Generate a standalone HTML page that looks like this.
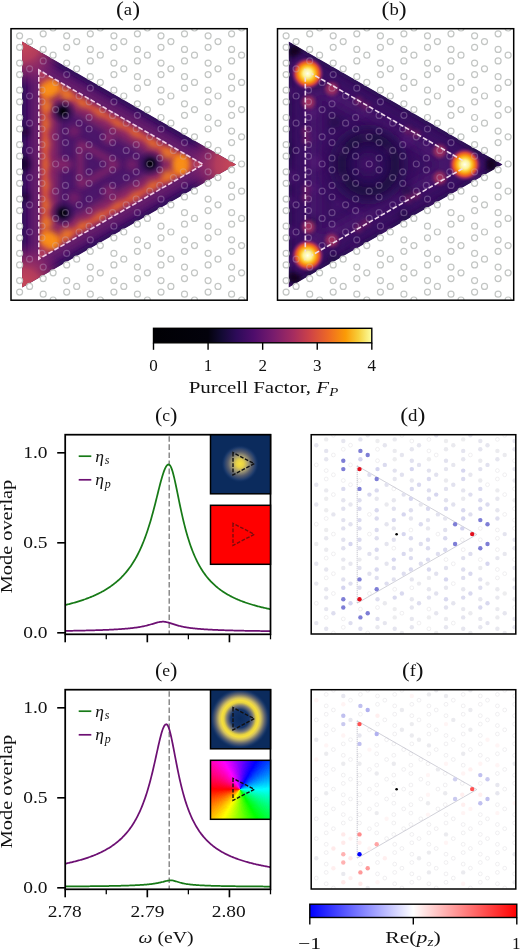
<!DOCTYPE html>
<html><head><meta charset="utf-8"><title>figure</title>
<style>html,body{margin:0;padding:0;background:#fff}svg{display:block}text{font-family:"Liberation Serif", "DejaVu Serif", serif;fill:#111}</style></head><body>
<svg width="520" height="951" viewBox="0 0 520 951">
<rect width="520" height="951" fill="#fff"/>
<defs>
<linearGradient id="inferno" x1="0" x2="1" y1="0" y2="0">
<stop offset="0" stop-color="#000004"/>
<stop offset="0.25" stop-color="#03020c"/>
<stop offset="0.31" stop-color="#120a32"/>
<stop offset="0.38" stop-color="#2d0b59"/>
<stop offset="0.46" stop-color="#4f0d6c"/>
<stop offset="0.55" stop-color="#781c6d"/>
<stop offset="0.64" stop-color="#a52c60"/>
<stop offset="0.72" stop-color="#cf4446"/>
<stop offset="0.8" stop-color="#ed6925"/>
<stop offset="0.88" stop-color="#fb9b06"/>
<stop offset="0.94" stop-color="#f7d03c"/>
<stop offset="1" stop-color="#fcffa4"/>
</linearGradient>
<linearGradient id="bwr" x1="0" x2="1" y1="0" y2="0"><stop offset="0" stop-color="#0000ff"/><stop offset="0.5" stop-color="#ffffff"/><stop offset="1" stop-color="#ff0000"/></linearGradient>
<filter id="b1" x="-60%" y="-60%" width="220%" height="220%"><feGaussianBlur stdDeviation="1.2"/></filter>
<filter id="b2" x="-60%" y="-60%" width="220%" height="220%"><feGaussianBlur stdDeviation="2"/></filter>
<filter id="b3" x="-60%" y="-60%" width="220%" height="220%"><feGaussianBlur stdDeviation="3"/></filter>
<filter id="b4" x="-60%" y="-60%" width="220%" height="220%"><feGaussianBlur stdDeviation="4.5"/></filter>
<filter id="b6" x="-60%" y="-60%" width="220%" height="220%"><feGaussianBlur stdDeviation="6"/></filter>
<filter id="b9" x="-60%" y="-60%" width="220%" height="220%"><feGaussianBlur stdDeviation="9"/></filter>
<radialGradient id="hot"><stop offset="0" stop-color="#ffffee"/><stop offset="0.24" stop-color="#fef69c"/><stop offset="0.4" stop-color="#fcc830"/><stop offset="0.55" stop-color="#f98b10"/><stop offset="0.69" stop-color="#da4c3b"/><stop offset="0.82" stop-color="#8a2468" stop-opacity="0.8"/><stop offset="1" stop-color="#3a0f5c" stop-opacity="0"/></radialGradient>
<radialGradient id="hotcore"><stop offset="0" stop-color="#ffffee"/><stop offset="0.6" stop-color="#fef8a6" stop-opacity="0.9"/><stop offset="1" stop-color="#fde870" stop-opacity="0"/></radialGradient>
<radialGradient id="dark"><stop offset="0" stop-color="#000004"/><stop offset="0.25" stop-color="#07041a" stop-opacity="0.9"/><stop offset="0.6" stop-color="#1d0940" stop-opacity="0.45"/><stop offset="1" stop-color="#2a0b50" stop-opacity="0"/></radialGradient>
<radialGradient id="cornerpink"><stop offset="0" stop-color="#cc4a58"/><stop offset="0.4" stop-color="#b83e5c" stop-opacity="0.95"/><stop offset="0.7" stop-color="#972b68" stop-opacity="0.6"/><stop offset="1" stop-color="#7a1d6d" stop-opacity="0"/></radialGradient>
<radialGradient id="civ_s"><stop offset="0" stop-color="#f8e23c"/><stop offset="0.2" stop-color="#e6d148"/><stop offset="0.42" stop-color="#a69d75"/><stop offset="0.64" stop-color="#575d6d"/><stop offset="0.85" stop-color="#1c3a6c"/><stop offset="1" stop-color="#0b2b5d" stop-opacity="0"/></radialGradient>
<radialGradient id="civ_p"><stop offset="0" stop-color="#0b2b5d"/><stop offset="0.3" stop-color="#16356a"/><stop offset="0.43" stop-color="#7c7b78"/><stop offset="0.53" stop-color="#e6d243"/><stop offset="0.6" stop-color="#f6e03c"/><stop offset="0.68" stop-color="#d2c060"/><stop offset="0.8" stop-color="#6a6c70"/><stop offset="0.92" stop-color="#1c3a6c" stop-opacity="0.8"/><stop offset="1" stop-color="#0b2b5d" stop-opacity="0"/></radialGradient>
<clipPath id="clipA"><polygon points="22.10,41.50 22.10,287.50 236.00,164.50"/></clipPath>
<clipPath id="clipIn"><polygon points="38.80,70.00 38.80,259.00 203.20,164.50"/></clipPath>
<clipPath id="frameA"><rect x="11" y="28.7" width="236.2" height="271.5"/></clipPath>
</defs>
<g id="panelA">
<g clip-path="url(#clipA)">
<polygon points="22.10,41.50 22.10,287.50 236.00,164.50" fill="#471168"/>
<polygon points="22.10,41.50 22.10,287.50 236.00,164.50" fill="none" stroke="#2f0e58" stroke-width="8" filter="url(#b3)"/>
<polygon points="38.80,70.00 38.80,259.00 203.20,164.50" fill="none" stroke="#651a6b" stroke-width="16" stroke-linejoin="round" filter="url(#b3)"/>
<circle cx="22.1" cy="41.5" r="46" fill="url(#cornerpink)"/>
<circle cx="22.1" cy="287.5" r="46" fill="url(#cornerpink)"/>
<circle cx="236.0" cy="164.5" r="50" fill="url(#cornerpink)"/>
<polygon points="52.77,94.14 52.77,234.86 175.17,164.50" fill="#4b126a" filter="url(#b4)"/>
<g clip-path="url(#clipIn)">
<polygon points="46.79,83.80 46.79,245.20 187.19,164.50" fill="none" stroke="#932965" stroke-width="21" stroke-linejoin="round" filter="url(#b4)"/>
<polygon points="45.29,81.21 45.29,247.79 190.19,164.50" fill="none" stroke="#d2513e" stroke-width="6.5" stroke-linejoin="round" filter="url(#b2)"/>
<circle cx="47.5" cy="90.0" r="8" fill="#f98f18" opacity="1" filter="url(#b3)"/>
<circle cx="181.0" cy="161.9" r="8" fill="#f98f18" opacity="1" filter="url(#b3)"/>
<circle cx="52.0" cy="241.6" r="8" fill="#f98f18" opacity="1" filter="url(#b3)"/>
<circle cx="47.5" cy="239.0" r="8" fill="#f98f18" opacity="1" filter="url(#b3)"/>
<circle cx="52.0" cy="87.4" r="8" fill="#f98f18" opacity="1" filter="url(#b3)"/>
<circle cx="181.0" cy="167.1" r="8" fill="#f98f18" opacity="1" filter="url(#b3)"/>
<circle cx="47.0" cy="106.0" r="6" fill="#f98f18" opacity="0.65" filter="url(#b3)"/>
<circle cx="167.4" cy="153.5" r="6" fill="#f98f18" opacity="0.65" filter="url(#b3)"/>
<circle cx="66.1" cy="234.0" r="6" fill="#f98f18" opacity="0.65" filter="url(#b3)"/>
<circle cx="47.0" cy="223.0" r="6" fill="#f98f18" opacity="0.65" filter="url(#b3)"/>
<circle cx="66.1" cy="95.0" r="6" fill="#f98f18" opacity="0.65" filter="url(#b3)"/>
<circle cx="167.4" cy="175.5" r="6" fill="#f98f18" opacity="0.65" filter="url(#b3)"/>
<circle cx="46.5" cy="124.0" r="5" fill="#f98f18" opacity="0.42" filter="url(#b3)"/>
<circle cx="152.1" cy="144.0" r="5" fill="#f98f18" opacity="0.42" filter="url(#b3)"/>
<circle cx="81.9" cy="225.5" r="5" fill="#f98f18" opacity="0.42" filter="url(#b3)"/>
<circle cx="46.5" cy="205.0" r="5" fill="#f98f18" opacity="0.42" filter="url(#b3)"/>
<circle cx="81.9" cy="103.5" r="5" fill="#f98f18" opacity="0.42" filter="url(#b3)"/>
<circle cx="152.1" cy="185.0" r="5" fill="#f98f18" opacity="0.42" filter="url(#b3)"/>
<circle cx="46.5" cy="144.0" r="4.5" fill="#f98f18" opacity="0.3" filter="url(#b3)"/>
<circle cx="134.8" cy="134.0" r="4.5" fill="#f98f18" opacity="0.3" filter="url(#b3)"/>
<circle cx="99.2" cy="215.5" r="4.5" fill="#f98f18" opacity="0.3" filter="url(#b3)"/>
<circle cx="46.5" cy="185.0" r="4.5" fill="#f98f18" opacity="0.3" filter="url(#b3)"/>
<circle cx="99.2" cy="113.5" r="4.5" fill="#f98f18" opacity="0.3" filter="url(#b3)"/>
<circle cx="134.8" cy="195.0" r="4.5" fill="#f98f18" opacity="0.3" filter="url(#b3)"/>
<circle cx="46.5" cy="164.5" r="4.5" fill="#f98f18" opacity="0.3" filter="url(#b3)"/>
<circle cx="117.0" cy="123.8" r="4.5" fill="#f98f18" opacity="0.3" filter="url(#b3)"/>
<circle cx="117.0" cy="205.2" r="4.5" fill="#f98f18" opacity="0.3" filter="url(#b3)"/>
<circle cx="41.3" cy="74.3" r="8" fill="#b23d5d" opacity="0.95" filter="url(#b3)"/>
<circle cx="41.3" cy="254.7" r="8" fill="#b23d5d" opacity="0.95" filter="url(#b3)"/>
<circle cx="198.2" cy="164.5" r="8" fill="#b23d5d" opacity="0.95" filter="url(#b3)"/>
</g>
<polygon points="80.00,143.00 80.00,186.00 117.00,164.50" fill="none" stroke="#8f2769" stroke-width="6" stroke-linejoin="round" opacity="0.85" filter="url(#b3)"/>
<ellipse cx="63.0" cy="164.5" rx="10" ry="6" fill="#8f2769" opacity="0.8" filter="url(#b3)"/>
<circle cx="108.8" cy="138.1" r="6" fill="#8f2769" opacity="0.8" filter="url(#b3)"/>
<circle cx="108.8" cy="190.9" r="6" fill="#8f2769" opacity="0.8" filter="url(#b3)"/>
<circle cx="132.0" cy="164.5" r="6" fill="#862368" opacity="0.7" filter="url(#b3)"/>
<circle cx="74.2" cy="197.8" r="6" fill="#862368" opacity="0.7" filter="url(#b3)"/>
<circle cx="74.2" cy="131.2" r="6" fill="#862368" opacity="0.7" filter="url(#b3)"/>
<circle cx="63.0" cy="111.5" r="13.5" fill="url(#dark)"/>
<circle cx="63.0" cy="213.0" r="13.5" fill="url(#dark)"/>
<circle cx="150.5" cy="163.5" r="13.5" fill="url(#dark)"/>
<circle cx="23.0" cy="164.0" r="7" fill="#0d0524" opacity="0.8" filter="url(#b3)"/>
<circle cx="25.0" cy="132.0" r="4" fill="#0d0524" opacity="0.8" filter="url(#b3)"/>
<circle cx="25.0" cy="197.0" r="4" fill="#0d0524" opacity="0.8" filter="url(#b3)"/>
</g>
<g clip-path="url(#frameA)" transform="translate(0,0)" fill="none" stroke-width="1"><g stroke="#c3c6c4" stroke-width="1.2"><circle cx="6.0" cy="28.0" r="3"/><circle cx="6.0" cy="55.2" r="3"/><circle cx="6.0" cy="82.4" r="3"/><circle cx="6.0" cy="109.6" r="3"/><circle cx="6.0" cy="136.8" r="3"/><circle cx="6.0" cy="164.0" r="3"/><circle cx="6.0" cy="191.2" r="3"/><circle cx="6.0" cy="218.4" r="3"/><circle cx="6.0" cy="245.6" r="3"/><circle cx="6.0" cy="272.8" r="3"/><circle cx="6.0" cy="300.0" r="3"/><circle cx="29.6" cy="41.6" r="3"/><circle cx="19.6" cy="47.3" r="3"/><circle cx="19.6" cy="35.8" r="3"/><circle cx="19.6" cy="74.6" r="3"/><circle cx="19.6" cy="63.1" r="3"/><circle cx="19.6" cy="101.8" r="3"/><circle cx="19.6" cy="90.2" r="3"/><circle cx="19.6" cy="129.0" r="3"/><circle cx="19.6" cy="117.5" r="3"/><circle cx="19.6" cy="156.2" r="3"/><circle cx="19.6" cy="144.7" r="3"/><circle cx="19.6" cy="183.3" r="3"/><circle cx="19.6" cy="171.8" r="3"/><circle cx="19.6" cy="210.6" r="3"/><circle cx="19.6" cy="199.1" r="3"/><circle cx="19.6" cy="237.8" r="3"/><circle cx="19.6" cy="226.2" r="3"/><circle cx="19.6" cy="264.9" r="3"/><circle cx="19.6" cy="253.4" r="3"/><circle cx="29.6" cy="286.4" r="3"/><circle cx="19.6" cy="292.1" r="3"/><circle cx="19.6" cy="280.6" r="3"/><circle cx="53.1" cy="28.0" r="3"/><circle cx="43.2" cy="33.8" r="3"/><circle cx="43.2" cy="22.3" r="3"/><circle cx="53.1" cy="55.2" r="3"/><circle cx="43.2" cy="49.4" r="3"/><circle cx="53.1" cy="272.8" r="3"/><circle cx="43.2" cy="278.6" r="3"/><circle cx="53.1" cy="300.0" r="3"/><circle cx="43.2" cy="305.8" r="3"/><circle cx="43.2" cy="294.2" r="3"/><circle cx="76.7" cy="41.6" r="3"/><circle cx="66.7" cy="47.3" r="3"/><circle cx="66.7" cy="35.8" r="3"/><circle cx="76.7" cy="68.8" r="3"/><circle cx="66.7" cy="63.1" r="3"/><circle cx="76.7" cy="259.2" r="3"/><circle cx="66.7" cy="264.9" r="3"/><circle cx="76.7" cy="286.4" r="3"/><circle cx="66.7" cy="292.1" r="3"/><circle cx="66.7" cy="280.6" r="3"/><circle cx="100.3" cy="28.0" r="3"/><circle cx="90.3" cy="33.8" r="3"/><circle cx="90.3" cy="22.3" r="3"/><circle cx="100.3" cy="55.2" r="3"/><circle cx="90.3" cy="60.9" r="3"/><circle cx="90.3" cy="49.4" r="3"/><circle cx="100.3" cy="82.4" r="3"/><circle cx="90.3" cy="76.7" r="3"/><circle cx="100.3" cy="245.6" r="3"/><circle cx="90.3" cy="251.3" r="3"/><circle cx="100.3" cy="272.8" r="3"/><circle cx="90.3" cy="278.6" r="3"/><circle cx="90.3" cy="267.1" r="3"/><circle cx="100.3" cy="300.0" r="3"/><circle cx="90.3" cy="305.8" r="3"/><circle cx="90.3" cy="294.2" r="3"/><circle cx="123.8" cy="41.6" r="3"/><circle cx="113.9" cy="47.3" r="3"/><circle cx="113.9" cy="35.8" r="3"/><circle cx="123.8" cy="68.8" r="3"/><circle cx="113.9" cy="74.6" r="3"/><circle cx="113.9" cy="63.1" r="3"/><circle cx="123.8" cy="96.0" r="3"/><circle cx="113.9" cy="90.2" r="3"/><circle cx="123.8" cy="232.0" r="3"/><circle cx="113.9" cy="237.8" r="3"/><circle cx="123.8" cy="259.2" r="3"/><circle cx="113.9" cy="264.9" r="3"/><circle cx="113.9" cy="253.4" r="3"/><circle cx="123.8" cy="286.4" r="3"/><circle cx="113.9" cy="292.1" r="3"/><circle cx="113.9" cy="280.6" r="3"/><circle cx="147.4" cy="28.0" r="3"/><circle cx="137.4" cy="33.8" r="3"/><circle cx="137.4" cy="22.3" r="3"/><circle cx="147.4" cy="55.2" r="3"/><circle cx="137.4" cy="60.9" r="3"/><circle cx="137.4" cy="49.4" r="3"/><circle cx="147.4" cy="82.4" r="3"/><circle cx="137.4" cy="88.2" r="3"/><circle cx="137.4" cy="76.7" r="3"/><circle cx="147.4" cy="109.6" r="3"/><circle cx="137.4" cy="103.8" r="3"/><circle cx="147.4" cy="218.4" r="3"/><circle cx="137.4" cy="224.2" r="3"/><circle cx="147.4" cy="245.6" r="3"/><circle cx="137.4" cy="251.3" r="3"/><circle cx="137.4" cy="239.8" r="3"/><circle cx="147.4" cy="272.8" r="3"/><circle cx="137.4" cy="278.6" r="3"/><circle cx="137.4" cy="267.1" r="3"/><circle cx="147.4" cy="300.0" r="3"/><circle cx="137.4" cy="305.8" r="3"/><circle cx="137.4" cy="294.2" r="3"/><circle cx="170.9" cy="41.6" r="3"/><circle cx="161.0" cy="47.3" r="3"/><circle cx="161.0" cy="35.8" r="3"/><circle cx="170.9" cy="68.8" r="3"/><circle cx="161.0" cy="74.6" r="3"/><circle cx="161.0" cy="63.1" r="3"/><circle cx="170.9" cy="96.0" r="3"/><circle cx="161.0" cy="101.8" r="3"/><circle cx="161.0" cy="90.2" r="3"/><circle cx="170.9" cy="123.2" r="3"/><circle cx="161.0" cy="117.5" r="3"/><circle cx="170.9" cy="204.8" r="3"/><circle cx="161.0" cy="210.6" r="3"/><circle cx="170.9" cy="232.0" r="3"/><circle cx="161.0" cy="237.8" r="3"/><circle cx="161.0" cy="226.2" r="3"/><circle cx="170.9" cy="259.2" r="3"/><circle cx="161.0" cy="264.9" r="3"/><circle cx="161.0" cy="253.4" r="3"/><circle cx="170.9" cy="286.4" r="3"/><circle cx="161.0" cy="292.1" r="3"/><circle cx="161.0" cy="280.6" r="3"/><circle cx="194.5" cy="28.0" r="3"/><circle cx="184.5" cy="33.8" r="3"/><circle cx="184.5" cy="22.3" r="3"/><circle cx="194.5" cy="55.2" r="3"/><circle cx="184.5" cy="60.9" r="3"/><circle cx="184.5" cy="49.4" r="3"/><circle cx="194.5" cy="82.4" r="3"/><circle cx="184.5" cy="88.2" r="3"/><circle cx="184.5" cy="76.7" r="3"/><circle cx="194.5" cy="109.6" r="3"/><circle cx="184.5" cy="115.3" r="3"/><circle cx="184.5" cy="103.8" r="3"/><circle cx="194.5" cy="136.8" r="3"/><circle cx="184.5" cy="131.1" r="3"/><circle cx="194.5" cy="191.2" r="3"/><circle cx="184.5" cy="196.9" r="3"/><circle cx="194.5" cy="218.4" r="3"/><circle cx="184.5" cy="224.2" r="3"/><circle cx="184.5" cy="212.7" r="3"/><circle cx="194.5" cy="245.6" r="3"/><circle cx="184.5" cy="251.3" r="3"/><circle cx="184.5" cy="239.8" r="3"/><circle cx="194.5" cy="272.8" r="3"/><circle cx="184.5" cy="278.6" r="3"/><circle cx="184.5" cy="267.1" r="3"/><circle cx="194.5" cy="300.0" r="3"/><circle cx="184.5" cy="305.8" r="3"/><circle cx="184.5" cy="294.2" r="3"/><circle cx="218.0" cy="41.6" r="3"/><circle cx="208.1" cy="47.3" r="3"/><circle cx="208.1" cy="35.8" r="3"/><circle cx="218.0" cy="68.8" r="3"/><circle cx="208.1" cy="74.6" r="3"/><circle cx="208.1" cy="63.1" r="3"/><circle cx="218.0" cy="96.0" r="3"/><circle cx="208.1" cy="101.8" r="3"/><circle cx="208.1" cy="90.2" r="3"/><circle cx="218.0" cy="123.2" r="3"/><circle cx="208.1" cy="129.0" r="3"/><circle cx="208.1" cy="117.5" r="3"/><circle cx="218.0" cy="150.4" r="3"/><circle cx="208.1" cy="144.7" r="3"/><circle cx="218.0" cy="177.6" r="3"/><circle cx="208.1" cy="183.3" r="3"/><circle cx="218.0" cy="204.8" r="3"/><circle cx="208.1" cy="210.6" r="3"/><circle cx="208.1" cy="199.1" r="3"/><circle cx="218.0" cy="232.0" r="3"/><circle cx="208.1" cy="237.8" r="3"/><circle cx="208.1" cy="226.2" r="3"/><circle cx="218.0" cy="259.2" r="3"/><circle cx="208.1" cy="264.9" r="3"/><circle cx="208.1" cy="253.4" r="3"/><circle cx="218.0" cy="286.4" r="3"/><circle cx="208.1" cy="292.1" r="3"/><circle cx="208.1" cy="280.6" r="3"/><circle cx="241.6" cy="28.0" r="3"/><circle cx="231.6" cy="33.8" r="3"/><circle cx="231.6" cy="22.3" r="3"/><circle cx="241.6" cy="55.2" r="3"/><circle cx="231.6" cy="60.9" r="3"/><circle cx="231.6" cy="49.4" r="3"/><circle cx="241.6" cy="82.4" r="3"/><circle cx="231.6" cy="88.2" r="3"/><circle cx="231.6" cy="76.7" r="3"/><circle cx="241.6" cy="109.6" r="3"/><circle cx="231.6" cy="115.3" r="3"/><circle cx="231.6" cy="103.8" r="3"/><circle cx="241.6" cy="136.8" r="3"/><circle cx="231.6" cy="142.6" r="3"/><circle cx="231.6" cy="131.1" r="3"/><circle cx="241.6" cy="164.0" r="3"/><circle cx="231.6" cy="169.8" r="3"/><circle cx="231.6" cy="158.2" r="3"/><circle cx="241.6" cy="191.2" r="3"/><circle cx="231.6" cy="196.9" r="3"/><circle cx="231.6" cy="185.4" r="3"/><circle cx="241.6" cy="218.4" r="3"/><circle cx="231.6" cy="224.2" r="3"/><circle cx="231.6" cy="212.7" r="3"/><circle cx="241.6" cy="245.6" r="3"/><circle cx="231.6" cy="251.3" r="3"/><circle cx="231.6" cy="239.8" r="3"/><circle cx="241.6" cy="272.8" r="3"/><circle cx="231.6" cy="278.6" r="3"/><circle cx="231.6" cy="267.1" r="3"/><circle cx="241.6" cy="300.0" r="3"/><circle cx="231.6" cy="305.8" r="3"/><circle cx="231.6" cy="294.2" r="3"/></g><g stroke="#c9b5d6" stroke-opacity="0.33" stroke-width="1.2"><circle cx="29.6" cy="68.8" r="3"/><circle cx="29.6" cy="96.0" r="3"/><circle cx="29.6" cy="123.2" r="3"/><circle cx="29.6" cy="150.4" r="3"/><circle cx="29.6" cy="177.6" r="3"/><circle cx="29.6" cy="204.8" r="3"/><circle cx="29.6" cy="232.0" r="3"/><circle cx="29.6" cy="259.2" r="3"/><circle cx="43.2" cy="60.9" r="3"/><circle cx="55.6" cy="82.4" r="3"/><circle cx="42.0" cy="90.2" r="3"/><circle cx="42.0" cy="74.6" r="3"/><circle cx="55.6" cy="109.6" r="3"/><circle cx="42.0" cy="117.4" r="3"/><circle cx="42.0" cy="101.8" r="3"/><circle cx="55.6" cy="136.8" r="3"/><circle cx="42.0" cy="144.7" r="3"/><circle cx="42.0" cy="129.0" r="3"/><circle cx="55.6" cy="164.0" r="3"/><circle cx="42.0" cy="171.8" r="3"/><circle cx="42.0" cy="156.2" r="3"/><circle cx="55.6" cy="191.2" r="3"/><circle cx="42.0" cy="199.0" r="3"/><circle cx="42.0" cy="183.3" r="3"/><circle cx="55.6" cy="218.4" r="3"/><circle cx="42.0" cy="226.2" r="3"/><circle cx="42.0" cy="210.6" r="3"/><circle cx="55.6" cy="245.6" r="3"/><circle cx="42.0" cy="253.4" r="3"/><circle cx="42.0" cy="237.8" r="3"/><circle cx="43.2" cy="267.1" r="3"/><circle cx="66.7" cy="74.6" r="3"/><circle cx="79.1" cy="96.0" r="3"/><circle cx="65.5" cy="103.8" r="3"/><circle cx="65.5" cy="88.2" r="3"/><circle cx="79.1" cy="123.2" r="3"/><circle cx="65.5" cy="131.1" r="3"/><circle cx="65.5" cy="115.4" r="3"/><circle cx="79.1" cy="150.4" r="3"/><circle cx="65.5" cy="158.2" r="3"/><circle cx="65.5" cy="142.6" r="3"/><circle cx="79.1" cy="177.6" r="3"/><circle cx="65.5" cy="185.4" r="3"/><circle cx="65.5" cy="169.8" r="3"/><circle cx="79.1" cy="204.8" r="3"/><circle cx="65.5" cy="212.7" r="3"/><circle cx="65.5" cy="197.0" r="3"/><circle cx="79.1" cy="232.0" r="3"/><circle cx="65.5" cy="239.8" r="3"/><circle cx="65.5" cy="224.2" r="3"/><circle cx="66.7" cy="253.4" r="3"/><circle cx="90.3" cy="88.2" r="3"/><circle cx="102.7" cy="109.6" r="3"/><circle cx="89.1" cy="117.4" r="3"/><circle cx="89.1" cy="101.8" r="3"/><circle cx="102.7" cy="136.8" r="3"/><circle cx="89.1" cy="144.7" r="3"/><circle cx="89.1" cy="129.0" r="3"/><circle cx="102.7" cy="164.0" r="3"/><circle cx="89.1" cy="171.8" r="3"/><circle cx="89.1" cy="156.2" r="3"/><circle cx="102.7" cy="191.2" r="3"/><circle cx="89.1" cy="199.0" r="3"/><circle cx="89.1" cy="183.3" r="3"/><circle cx="102.7" cy="218.4" r="3"/><circle cx="89.1" cy="226.2" r="3"/><circle cx="89.1" cy="210.6" r="3"/><circle cx="90.3" cy="239.8" r="3"/><circle cx="113.9" cy="101.8" r="3"/><circle cx="126.2" cy="123.2" r="3"/><circle cx="112.6" cy="131.1" r="3"/><circle cx="112.6" cy="115.4" r="3"/><circle cx="126.2" cy="150.4" r="3"/><circle cx="112.6" cy="158.2" r="3"/><circle cx="112.6" cy="142.6" r="3"/><circle cx="126.2" cy="177.6" r="3"/><circle cx="112.6" cy="185.4" r="3"/><circle cx="112.6" cy="169.8" r="3"/><circle cx="126.2" cy="204.8" r="3"/><circle cx="112.6" cy="212.7" r="3"/><circle cx="112.6" cy="197.0" r="3"/><circle cx="113.9" cy="226.2" r="3"/><circle cx="137.4" cy="115.3" r="3"/><circle cx="149.8" cy="136.8" r="3"/><circle cx="136.2" cy="144.7" r="3"/><circle cx="136.2" cy="129.0" r="3"/><circle cx="149.8" cy="164.0" r="3"/><circle cx="136.2" cy="171.8" r="3"/><circle cx="136.2" cy="156.2" r="3"/><circle cx="149.8" cy="191.2" r="3"/><circle cx="136.2" cy="199.0" r="3"/><circle cx="136.2" cy="183.3" r="3"/><circle cx="137.4" cy="212.7" r="3"/><circle cx="161.0" cy="129.0" r="3"/><circle cx="173.4" cy="150.4" r="3"/><circle cx="159.8" cy="158.2" r="3"/><circle cx="159.8" cy="142.6" r="3"/><circle cx="173.4" cy="177.6" r="3"/><circle cx="159.8" cy="185.4" r="3"/><circle cx="159.8" cy="169.8" r="3"/><circle cx="161.0" cy="199.1" r="3"/><circle cx="184.5" cy="142.6" r="3"/><circle cx="196.9" cy="164.0" r="3"/><circle cx="183.3" cy="171.8" r="3"/><circle cx="183.3" cy="156.2" r="3"/><circle cx="184.5" cy="185.4" r="3"/><circle cx="208.1" cy="156.2" r="3"/><circle cx="208.1" cy="171.8" r="3"/></g></g>
<polygon points="38.80,70.00 38.80,259.00 203.20,164.50" fill="none" stroke="#f3cfe6" stroke-width="1.6" stroke-dasharray="4.8,2.1"/>
<rect x="11" y="28.7" width="236.2" height="271.5" fill="none" stroke="#000" stroke-width="1.5"/>
</g>
<g id="panelB">
<g clip-path="url(#clipA)" transform="translate(266.5,0)">
<polygon points="22.10,41.50 22.10,287.50 236.00,164.50" fill="#3a1062"/>
<polygon points="22.10,41.50 22.10,287.50 236.00,164.50" fill="none" stroke="#2a0b52" stroke-width="7" filter="url(#b3)"/>
<polygon points="46.79,83.80 46.79,245.20 187.19,164.50" fill="none" stroke="#47136c" stroke-width="12" stroke-linejoin="round" filter="url(#b4)"/>
<circle cx="102" cy="164.5" r="40" fill="#2c0b55" filter="url(#b9)"/>
<circle cx="102" cy="164.5" r="27" fill="none" stroke="#1d0840" stroke-width="9" filter="url(#b4)"/>
<circle cx="102" cy="164.5" r="12" fill="#3a1062" filter="url(#b4)"/>
<circle cx="26.5" cy="68.0" r="4.62072" fill="#5a1a78" opacity="0.55" filter="url(#b3)"/>
<circle cx="21.9" cy="92.5" r="5.76859" fill="#541878" opacity="0.55" filter="url(#b3)"/>
<circle cx="19.6" cy="122.5" r="5.10166" fill="#541878" opacity="0.55" filter="url(#b3)"/>
<circle cx="19.4" cy="150.9" r="6.86862" fill="#1d0840" opacity="0.55" filter="url(#b3)"/>
<circle cx="23.6" cy="176.8" r="6.94064" fill="#541878" opacity="0.55" filter="url(#b3)"/>
<circle cx="23.4" cy="201.9" r="5.54785" fill="#541878" opacity="0.55" filter="url(#b3)"/>
<circle cx="23.5" cy="232.5" r="6.20501" fill="#541878" opacity="0.55" filter="url(#b3)"/>
<circle cx="23.6" cy="260.3" r="5.43099" fill="#541878" opacity="0.55" filter="url(#b3)"/>
<circle cx="23.5" cy="287.4" r="5.74104" fill="#541878" opacity="0.55" filter="url(#b3)"/>
<circle cx="48.7" cy="82.1" r="6.8086" fill="#1d0840" opacity="0.55" filter="url(#b3)"/>
<circle cx="44.9" cy="112.0" r="6.24749" fill="#5a1a78" opacity="0.55" filter="url(#b3)"/>
<circle cx="43.2" cy="135.2" r="5.73779" fill="#4d1572" opacity="0.55" filter="url(#b3)"/>
<circle cx="48.3" cy="162.3" r="6.95044" fill="#5a1a78" opacity="0.55" filter="url(#b3)"/>
<circle cx="46.6" cy="188.5" r="5.35514" fill="#541878" opacity="0.55" filter="url(#b3)"/>
<circle cx="45.9" cy="222.1" r="4.69405" fill="#1d0840" opacity="0.55" filter="url(#b3)"/>
<circle cx="45.2" cy="244.4" r="5.74169" fill="#5a1a78" opacity="0.55" filter="url(#b3)"/>
<circle cx="43.1" cy="269.5" r="5.17485" fill="#1d0840" opacity="0.55" filter="url(#b3)"/>
<circle cx="66.6" cy="97.6" r="6.11782" fill="#541878" opacity="0.55" filter="url(#b3)"/>
<circle cx="68.3" cy="122.3" r="6.17163" fill="#1d0840" opacity="0.55" filter="url(#b3)"/>
<circle cx="75.1" cy="150.4" r="4.5" fill="#47136c" opacity="0.5" filter="url(#b3)"/>
<circle cx="75.1" cy="177.6" r="4.5" fill="#47136c" opacity="0.5" filter="url(#b3)"/>
<circle cx="71.0" cy="204.7" r="5.04552" fill="#4d1572" opacity="0.55" filter="url(#b3)"/>
<circle cx="67.1" cy="230.0" r="5.47737" fill="#5a1a78" opacity="0.55" filter="url(#b3)"/>
<circle cx="66.7" cy="258.8" r="5.8736" fill="#1d0840" opacity="0.55" filter="url(#b3)"/>
<circle cx="96.2" cy="112.5" r="5.19605" fill="#4d1572" opacity="0.55" filter="url(#b3)"/>
<circle cx="98.6" cy="136.8" r="4.5" fill="#47136c" opacity="0.5" filter="url(#b3)"/>
<circle cx="98.6" cy="164.0" r="4.5" fill="#47136c" opacity="0.5" filter="url(#b3)"/>
<circle cx="90.8" cy="215.8" r="5.07989" fill="#4d1572" opacity="0.55" filter="url(#b3)"/>
<circle cx="89.7" cy="248.2" r="4.95586" fill="#4d1572" opacity="0.55" filter="url(#b3)"/>
<circle cx="122.2" cy="123.2" r="4.5" fill="#47136c" opacity="0.5" filter="url(#b3)"/>
<circle cx="122.2" cy="150.4" r="4.5" fill="#47136c" opacity="0.5" filter="url(#b3)"/>
<circle cx="120.8" cy="233.5" r="5.78873" fill="#5a1a78" opacity="0.55" filter="url(#b3)"/>
<circle cx="140.4" cy="139.8" r="6.87972" fill="#541878" opacity="0.55" filter="url(#b3)"/>
<circle cx="139.9" cy="190.4" r="5.70381" fill="#1d0840" opacity="0.55" filter="url(#b3)"/>
<circle cx="137.2" cy="214.9" r="5.02191" fill="#1d0840" opacity="0.55" filter="url(#b3)"/>
<circle cx="161.2" cy="151.2" r="4.75595" fill="#4d1572" opacity="0.55" filter="url(#b3)"/>
<circle cx="164.6" cy="181.2" r="6.03434" fill="#4d1572" opacity="0.55" filter="url(#b3)"/>
<circle cx="167.3" cy="205.7" r="4.87138" fill="#541878" opacity="0.55" filter="url(#b3)"/>
<circle cx="191.5" cy="164.8" r="5.68538" fill="#5a1a78" opacity="0.55" filter="url(#b3)"/>
<circle cx="190.6" cy="195.1" r="5.66497" fill="#541878" opacity="0.55" filter="url(#b3)"/>
<circle cx="209.9" cy="147.6" r="6.37418" fill="#1d0840" opacity="0.55" filter="url(#b3)"/>
<circle cx="211.2" cy="179.1" r="5.79084" fill="#5a1a78" opacity="0.55" filter="url(#b3)"/>
<circle cx="238.6" cy="164.2" r="4.86651" fill="#4d1572" opacity="0.55" filter="url(#b3)"/>
<circle cx="65.5" cy="88.5" r="5.5" fill="#a8335f" opacity="0.8" filter="url(#b2)"/>
<circle cx="173.3" cy="178.3" r="5.5" fill="#a8335f" opacity="0.8" filter="url(#b2)"/>
<circle cx="41.7" cy="226.7" r="5.5" fill="#a8335f" opacity="0.8" filter="url(#b2)"/>
<circle cx="65.5" cy="240.5" r="5.5" fill="#a8335f" opacity="0.8" filter="url(#b2)"/>
<circle cx="41.7" cy="102.3" r="5.5" fill="#a8335f" opacity="0.8" filter="url(#b2)"/>
<circle cx="173.3" cy="150.7" r="5.5" fill="#a8335f" opacity="0.8" filter="url(#b2)"/>
<circle cx="42.5" cy="102.0" r="5.5" fill="#a8335f" opacity="0.75" filter="url(#b2)"/>
<circle cx="173.1" cy="151.6" r="5.5" fill="#a8335f" opacity="0.75" filter="url(#b2)"/>
<circle cx="64.9" cy="239.9" r="5.5" fill="#a8335f" opacity="0.75" filter="url(#b2)"/>
<circle cx="42.5" cy="227.0" r="5.5" fill="#a8335f" opacity="0.75" filter="url(#b2)"/>
<circle cx="64.9" cy="89.1" r="5.5" fill="#a8335f" opacity="0.75" filter="url(#b2)"/>
<circle cx="173.1" cy="177.4" r="5.5" fill="#a8335f" opacity="0.75" filter="url(#b2)"/>
<circle cx="92.0" cy="101.0" r="4" fill="#a8335f" opacity="0.45" filter="url(#b2)"/>
<circle cx="149.2" cy="195.0" r="4" fill="#a8335f" opacity="0.45" filter="url(#b2)"/>
<circle cx="39.3" cy="197.5" r="4" fill="#a8335f" opacity="0.45" filter="url(#b2)"/>
<circle cx="92.0" cy="228.0" r="4" fill="#a8335f" opacity="0.45" filter="url(#b2)"/>
<circle cx="39.3" cy="131.5" r="4" fill="#a8335f" opacity="0.45" filter="url(#b2)"/>
<circle cx="149.2" cy="134.0" r="4" fill="#a8335f" opacity="0.45" filter="url(#b2)"/>
<circle cx="40.0" cy="140.0" r="4" fill="#a8335f" opacity="0.4" filter="url(#b2)"/>
<circle cx="141.5" cy="130.4" r="4" fill="#a8335f" opacity="0.4" filter="url(#b2)"/>
<circle cx="99.0" cy="223.1" r="4" fill="#a8335f" opacity="0.4" filter="url(#b2)"/>
<circle cx="40.0" cy="189.0" r="4" fill="#a8335f" opacity="0.4" filter="url(#b2)"/>
<circle cx="99.0" cy="105.9" r="4" fill="#a8335f" opacity="0.4" filter="url(#b2)"/>
<circle cx="141.5" cy="198.6" r="4" fill="#a8335f" opacity="0.4" filter="url(#b2)"/>
<circle cx="26.0" cy="52.0" r="5" fill="#0a0418" opacity="0.7" filter="url(#b2)"/>
<circle cx="224.7" cy="162.3" r="5" fill="#0a0418" opacity="0.7" filter="url(#b2)"/>
<circle cx="29.8" cy="279.2" r="5" fill="#0a0418" opacity="0.7" filter="url(#b2)"/>
<circle cx="26.0" cy="277.0" r="5" fill="#0a0418" opacity="0.7" filter="url(#b2)"/>
<circle cx="29.8" cy="49.8" r="5" fill="#0a0418" opacity="0.7" filter="url(#b2)"/>
<circle cx="224.7" cy="166.7" r="5" fill="#0a0418" opacity="0.7" filter="url(#b2)"/>
<circle cx="41.1" cy="73.5" r="17.3" fill="url(#hot)"/>
<circle cx="41.1" cy="255.5" r="17.3" fill="url(#hot)"/>
<circle cx="198.3" cy="164.5" r="17.3" fill="url(#hot)"/>
</g>
<g clip-path="url(#frameA)" transform="translate(266.5,0)" fill="none" stroke-width="1"><g stroke="#c3c6c4" stroke-width="1.2"><circle cx="6.0" cy="28.0" r="3"/><circle cx="6.0" cy="55.2" r="3"/><circle cx="6.0" cy="82.4" r="3"/><circle cx="6.0" cy="109.6" r="3"/><circle cx="6.0" cy="136.8" r="3"/><circle cx="6.0" cy="164.0" r="3"/><circle cx="6.0" cy="191.2" r="3"/><circle cx="6.0" cy="218.4" r="3"/><circle cx="6.0" cy="245.6" r="3"/><circle cx="6.0" cy="272.8" r="3"/><circle cx="6.0" cy="300.0" r="3"/><circle cx="29.6" cy="41.6" r="3"/><circle cx="19.6" cy="47.3" r="3"/><circle cx="19.6" cy="35.8" r="3"/><circle cx="19.6" cy="74.6" r="3"/><circle cx="19.6" cy="63.1" r="3"/><circle cx="19.6" cy="101.8" r="3"/><circle cx="19.6" cy="90.2" r="3"/><circle cx="19.6" cy="129.0" r="3"/><circle cx="19.6" cy="117.5" r="3"/><circle cx="19.6" cy="156.2" r="3"/><circle cx="19.6" cy="144.7" r="3"/><circle cx="19.6" cy="183.3" r="3"/><circle cx="19.6" cy="171.8" r="3"/><circle cx="19.6" cy="210.6" r="3"/><circle cx="19.6" cy="199.1" r="3"/><circle cx="19.6" cy="237.8" r="3"/><circle cx="19.6" cy="226.2" r="3"/><circle cx="19.6" cy="264.9" r="3"/><circle cx="19.6" cy="253.4" r="3"/><circle cx="29.6" cy="286.4" r="3"/><circle cx="19.6" cy="292.1" r="3"/><circle cx="19.6" cy="280.6" r="3"/><circle cx="53.1" cy="28.0" r="3"/><circle cx="43.2" cy="33.8" r="3"/><circle cx="43.2" cy="22.3" r="3"/><circle cx="53.1" cy="55.2" r="3"/><circle cx="43.2" cy="49.4" r="3"/><circle cx="53.1" cy="272.8" r="3"/><circle cx="43.2" cy="278.6" r="3"/><circle cx="53.1" cy="300.0" r="3"/><circle cx="43.2" cy="305.8" r="3"/><circle cx="43.2" cy="294.2" r="3"/><circle cx="76.7" cy="41.6" r="3"/><circle cx="66.7" cy="47.3" r="3"/><circle cx="66.7" cy="35.8" r="3"/><circle cx="76.7" cy="68.8" r="3"/><circle cx="66.7" cy="63.1" r="3"/><circle cx="76.7" cy="259.2" r="3"/><circle cx="66.7" cy="264.9" r="3"/><circle cx="76.7" cy="286.4" r="3"/><circle cx="66.7" cy="292.1" r="3"/><circle cx="66.7" cy="280.6" r="3"/><circle cx="100.3" cy="28.0" r="3"/><circle cx="90.3" cy="33.8" r="3"/><circle cx="90.3" cy="22.3" r="3"/><circle cx="100.3" cy="55.2" r="3"/><circle cx="90.3" cy="60.9" r="3"/><circle cx="90.3" cy="49.4" r="3"/><circle cx="100.3" cy="82.4" r="3"/><circle cx="90.3" cy="76.7" r="3"/><circle cx="100.3" cy="245.6" r="3"/><circle cx="90.3" cy="251.3" r="3"/><circle cx="100.3" cy="272.8" r="3"/><circle cx="90.3" cy="278.6" r="3"/><circle cx="90.3" cy="267.1" r="3"/><circle cx="100.3" cy="300.0" r="3"/><circle cx="90.3" cy="305.8" r="3"/><circle cx="90.3" cy="294.2" r="3"/><circle cx="123.8" cy="41.6" r="3"/><circle cx="113.9" cy="47.3" r="3"/><circle cx="113.9" cy="35.8" r="3"/><circle cx="123.8" cy="68.8" r="3"/><circle cx="113.9" cy="74.6" r="3"/><circle cx="113.9" cy="63.1" r="3"/><circle cx="123.8" cy="96.0" r="3"/><circle cx="113.9" cy="90.2" r="3"/><circle cx="123.8" cy="232.0" r="3"/><circle cx="113.9" cy="237.8" r="3"/><circle cx="123.8" cy="259.2" r="3"/><circle cx="113.9" cy="264.9" r="3"/><circle cx="113.9" cy="253.4" r="3"/><circle cx="123.8" cy="286.4" r="3"/><circle cx="113.9" cy="292.1" r="3"/><circle cx="113.9" cy="280.6" r="3"/><circle cx="147.4" cy="28.0" r="3"/><circle cx="137.4" cy="33.8" r="3"/><circle cx="137.4" cy="22.3" r="3"/><circle cx="147.4" cy="55.2" r="3"/><circle cx="137.4" cy="60.9" r="3"/><circle cx="137.4" cy="49.4" r="3"/><circle cx="147.4" cy="82.4" r="3"/><circle cx="137.4" cy="88.2" r="3"/><circle cx="137.4" cy="76.7" r="3"/><circle cx="147.4" cy="109.6" r="3"/><circle cx="137.4" cy="103.8" r="3"/><circle cx="147.4" cy="218.4" r="3"/><circle cx="137.4" cy="224.2" r="3"/><circle cx="147.4" cy="245.6" r="3"/><circle cx="137.4" cy="251.3" r="3"/><circle cx="137.4" cy="239.8" r="3"/><circle cx="147.4" cy="272.8" r="3"/><circle cx="137.4" cy="278.6" r="3"/><circle cx="137.4" cy="267.1" r="3"/><circle cx="147.4" cy="300.0" r="3"/><circle cx="137.4" cy="305.8" r="3"/><circle cx="137.4" cy="294.2" r="3"/><circle cx="170.9" cy="41.6" r="3"/><circle cx="161.0" cy="47.3" r="3"/><circle cx="161.0" cy="35.8" r="3"/><circle cx="170.9" cy="68.8" r="3"/><circle cx="161.0" cy="74.6" r="3"/><circle cx="161.0" cy="63.1" r="3"/><circle cx="170.9" cy="96.0" r="3"/><circle cx="161.0" cy="101.8" r="3"/><circle cx="161.0" cy="90.2" r="3"/><circle cx="170.9" cy="123.2" r="3"/><circle cx="161.0" cy="117.5" r="3"/><circle cx="170.9" cy="204.8" r="3"/><circle cx="161.0" cy="210.6" r="3"/><circle cx="170.9" cy="232.0" r="3"/><circle cx="161.0" cy="237.8" r="3"/><circle cx="161.0" cy="226.2" r="3"/><circle cx="170.9" cy="259.2" r="3"/><circle cx="161.0" cy="264.9" r="3"/><circle cx="161.0" cy="253.4" r="3"/><circle cx="170.9" cy="286.4" r="3"/><circle cx="161.0" cy="292.1" r="3"/><circle cx="161.0" cy="280.6" r="3"/><circle cx="194.5" cy="28.0" r="3"/><circle cx="184.5" cy="33.8" r="3"/><circle cx="184.5" cy="22.3" r="3"/><circle cx="194.5" cy="55.2" r="3"/><circle cx="184.5" cy="60.9" r="3"/><circle cx="184.5" cy="49.4" r="3"/><circle cx="194.5" cy="82.4" r="3"/><circle cx="184.5" cy="88.2" r="3"/><circle cx="184.5" cy="76.7" r="3"/><circle cx="194.5" cy="109.6" r="3"/><circle cx="184.5" cy="115.3" r="3"/><circle cx="184.5" cy="103.8" r="3"/><circle cx="194.5" cy="136.8" r="3"/><circle cx="184.5" cy="131.1" r="3"/><circle cx="194.5" cy="191.2" r="3"/><circle cx="184.5" cy="196.9" r="3"/><circle cx="194.5" cy="218.4" r="3"/><circle cx="184.5" cy="224.2" r="3"/><circle cx="184.5" cy="212.7" r="3"/><circle cx="194.5" cy="245.6" r="3"/><circle cx="184.5" cy="251.3" r="3"/><circle cx="184.5" cy="239.8" r="3"/><circle cx="194.5" cy="272.8" r="3"/><circle cx="184.5" cy="278.6" r="3"/><circle cx="184.5" cy="267.1" r="3"/><circle cx="194.5" cy="300.0" r="3"/><circle cx="184.5" cy="305.8" r="3"/><circle cx="184.5" cy="294.2" r="3"/><circle cx="218.0" cy="41.6" r="3"/><circle cx="208.1" cy="47.3" r="3"/><circle cx="208.1" cy="35.8" r="3"/><circle cx="218.0" cy="68.8" r="3"/><circle cx="208.1" cy="74.6" r="3"/><circle cx="208.1" cy="63.1" r="3"/><circle cx="218.0" cy="96.0" r="3"/><circle cx="208.1" cy="101.8" r="3"/><circle cx="208.1" cy="90.2" r="3"/><circle cx="218.0" cy="123.2" r="3"/><circle cx="208.1" cy="129.0" r="3"/><circle cx="208.1" cy="117.5" r="3"/><circle cx="218.0" cy="150.4" r="3"/><circle cx="208.1" cy="144.7" r="3"/><circle cx="218.0" cy="177.6" r="3"/><circle cx="208.1" cy="183.3" r="3"/><circle cx="218.0" cy="204.8" r="3"/><circle cx="208.1" cy="210.6" r="3"/><circle cx="208.1" cy="199.1" r="3"/><circle cx="218.0" cy="232.0" r="3"/><circle cx="208.1" cy="237.8" r="3"/><circle cx="208.1" cy="226.2" r="3"/><circle cx="218.0" cy="259.2" r="3"/><circle cx="208.1" cy="264.9" r="3"/><circle cx="208.1" cy="253.4" r="3"/><circle cx="218.0" cy="286.4" r="3"/><circle cx="208.1" cy="292.1" r="3"/><circle cx="208.1" cy="280.6" r="3"/><circle cx="241.6" cy="28.0" r="3"/><circle cx="231.6" cy="33.8" r="3"/><circle cx="231.6" cy="22.3" r="3"/><circle cx="241.6" cy="55.2" r="3"/><circle cx="231.6" cy="60.9" r="3"/><circle cx="231.6" cy="49.4" r="3"/><circle cx="241.6" cy="82.4" r="3"/><circle cx="231.6" cy="88.2" r="3"/><circle cx="231.6" cy="76.7" r="3"/><circle cx="241.6" cy="109.6" r="3"/><circle cx="231.6" cy="115.3" r="3"/><circle cx="231.6" cy="103.8" r="3"/><circle cx="241.6" cy="136.8" r="3"/><circle cx="231.6" cy="142.6" r="3"/><circle cx="231.6" cy="131.1" r="3"/><circle cx="241.6" cy="164.0" r="3"/><circle cx="231.6" cy="169.8" r="3"/><circle cx="231.6" cy="158.2" r="3"/><circle cx="241.6" cy="191.2" r="3"/><circle cx="231.6" cy="196.9" r="3"/><circle cx="231.6" cy="185.4" r="3"/><circle cx="241.6" cy="218.4" r="3"/><circle cx="231.6" cy="224.2" r="3"/><circle cx="231.6" cy="212.7" r="3"/><circle cx="241.6" cy="245.6" r="3"/><circle cx="231.6" cy="251.3" r="3"/><circle cx="231.6" cy="239.8" r="3"/><circle cx="241.6" cy="272.8" r="3"/><circle cx="231.6" cy="278.6" r="3"/><circle cx="231.6" cy="267.1" r="3"/><circle cx="241.6" cy="300.0" r="3"/><circle cx="231.6" cy="305.8" r="3"/><circle cx="231.6" cy="294.2" r="3"/></g><g stroke="#c9b5d6" stroke-opacity="0.33" stroke-width="1.2"><circle cx="29.6" cy="68.8" r="3"/><circle cx="29.6" cy="96.0" r="3"/><circle cx="29.6" cy="123.2" r="3"/><circle cx="29.6" cy="150.4" r="3"/><circle cx="29.6" cy="177.6" r="3"/><circle cx="29.6" cy="204.8" r="3"/><circle cx="29.6" cy="232.0" r="3"/><circle cx="29.6" cy="259.2" r="3"/><circle cx="43.2" cy="60.9" r="3"/><circle cx="55.6" cy="82.4" r="3"/><circle cx="42.0" cy="90.2" r="3"/><circle cx="42.0" cy="74.6" r="3"/><circle cx="55.6" cy="109.6" r="3"/><circle cx="42.0" cy="117.4" r="3"/><circle cx="42.0" cy="101.8" r="3"/><circle cx="55.6" cy="136.8" r="3"/><circle cx="42.0" cy="144.7" r="3"/><circle cx="42.0" cy="129.0" r="3"/><circle cx="55.6" cy="164.0" r="3"/><circle cx="42.0" cy="171.8" r="3"/><circle cx="42.0" cy="156.2" r="3"/><circle cx="55.6" cy="191.2" r="3"/><circle cx="42.0" cy="199.0" r="3"/><circle cx="42.0" cy="183.3" r="3"/><circle cx="55.6" cy="218.4" r="3"/><circle cx="42.0" cy="226.2" r="3"/><circle cx="42.0" cy="210.6" r="3"/><circle cx="55.6" cy="245.6" r="3"/><circle cx="42.0" cy="253.4" r="3"/><circle cx="42.0" cy="237.8" r="3"/><circle cx="43.2" cy="267.1" r="3"/><circle cx="66.7" cy="74.6" r="3"/><circle cx="79.1" cy="96.0" r="3"/><circle cx="65.5" cy="103.8" r="3"/><circle cx="65.5" cy="88.2" r="3"/><circle cx="79.1" cy="123.2" r="3"/><circle cx="65.5" cy="131.1" r="3"/><circle cx="65.5" cy="115.4" r="3"/><circle cx="79.1" cy="150.4" r="3"/><circle cx="65.5" cy="158.2" r="3"/><circle cx="65.5" cy="142.6" r="3"/><circle cx="79.1" cy="177.6" r="3"/><circle cx="65.5" cy="185.4" r="3"/><circle cx="65.5" cy="169.8" r="3"/><circle cx="79.1" cy="204.8" r="3"/><circle cx="65.5" cy="212.7" r="3"/><circle cx="65.5" cy="197.0" r="3"/><circle cx="79.1" cy="232.0" r="3"/><circle cx="65.5" cy="239.8" r="3"/><circle cx="65.5" cy="224.2" r="3"/><circle cx="66.7" cy="253.4" r="3"/><circle cx="90.3" cy="88.2" r="3"/><circle cx="102.7" cy="109.6" r="3"/><circle cx="89.1" cy="117.4" r="3"/><circle cx="89.1" cy="101.8" r="3"/><circle cx="102.7" cy="136.8" r="3"/><circle cx="89.1" cy="144.7" r="3"/><circle cx="89.1" cy="129.0" r="3"/><circle cx="102.7" cy="164.0" r="3"/><circle cx="89.1" cy="171.8" r="3"/><circle cx="89.1" cy="156.2" r="3"/><circle cx="102.7" cy="191.2" r="3"/><circle cx="89.1" cy="199.0" r="3"/><circle cx="89.1" cy="183.3" r="3"/><circle cx="102.7" cy="218.4" r="3"/><circle cx="89.1" cy="226.2" r="3"/><circle cx="89.1" cy="210.6" r="3"/><circle cx="90.3" cy="239.8" r="3"/><circle cx="113.9" cy="101.8" r="3"/><circle cx="126.2" cy="123.2" r="3"/><circle cx="112.6" cy="131.1" r="3"/><circle cx="112.6" cy="115.4" r="3"/><circle cx="126.2" cy="150.4" r="3"/><circle cx="112.6" cy="158.2" r="3"/><circle cx="112.6" cy="142.6" r="3"/><circle cx="126.2" cy="177.6" r="3"/><circle cx="112.6" cy="185.4" r="3"/><circle cx="112.6" cy="169.8" r="3"/><circle cx="126.2" cy="204.8" r="3"/><circle cx="112.6" cy="212.7" r="3"/><circle cx="112.6" cy="197.0" r="3"/><circle cx="113.9" cy="226.2" r="3"/><circle cx="137.4" cy="115.3" r="3"/><circle cx="149.8" cy="136.8" r="3"/><circle cx="136.2" cy="144.7" r="3"/><circle cx="136.2" cy="129.0" r="3"/><circle cx="149.8" cy="164.0" r="3"/><circle cx="136.2" cy="171.8" r="3"/><circle cx="136.2" cy="156.2" r="3"/><circle cx="149.8" cy="191.2" r="3"/><circle cx="136.2" cy="199.0" r="3"/><circle cx="136.2" cy="183.3" r="3"/><circle cx="137.4" cy="212.7" r="3"/><circle cx="161.0" cy="129.0" r="3"/><circle cx="173.4" cy="150.4" r="3"/><circle cx="159.8" cy="158.2" r="3"/><circle cx="159.8" cy="142.6" r="3"/><circle cx="173.4" cy="177.6" r="3"/><circle cx="159.8" cy="185.4" r="3"/><circle cx="159.8" cy="169.8" r="3"/><circle cx="161.0" cy="199.1" r="3"/><circle cx="184.5" cy="142.6" r="3"/><circle cx="196.9" cy="164.0" r="3"/><circle cx="183.3" cy="171.8" r="3"/><circle cx="183.3" cy="156.2" r="3"/><circle cx="184.5" cy="185.4" r="3"/><circle cx="208.1" cy="156.2" r="3"/><circle cx="208.1" cy="171.8" r="3"/></g></g>
<polygon points="305.30,70.00 305.30,259.00 469.70,164.50" fill="none" stroke="#f0d9ec" stroke-width="1.6" stroke-dasharray="4.8,2.1"/>
<circle cx="307.6" cy="73.5" r="5.5" fill="url(#hotcore)"/>
<circle cx="307.6" cy="255.5" r="5.5" fill="url(#hotcore)"/>
<circle cx="464.8" cy="164.5" r="5.5" fill="url(#hotcore)"/>
<rect x="277.5" y="28.7" width="236.2" height="271.5" fill="none" stroke="#000" stroke-width="1.5"/>
</g>
<text x="116.0" y="15.0" font-size="17.5" textLength="24.0" lengthAdjust="spacingAndGlyphs"><tspan font-size="22" dy="1.2">(</tspan><tspan dy="-1.2">a</tspan><tspan font-size="22" dy="1.2">)</tspan></text>
<text x="381.6" y="15.0" font-size="17.5" textLength="25.0" lengthAdjust="spacingAndGlyphs"><tspan font-size="22" dy="1.2">(</tspan><tspan dy="-1.2">b</tspan><tspan font-size="22" dy="1.2">)</tspan></text>
<text x="154.9" y="421.0" font-size="17.5" textLength="22.5" lengthAdjust="spacingAndGlyphs"><tspan font-size="22" dy="1.2">(</tspan><tspan dy="-1.2">c</tspan><tspan font-size="22" dy="1.2">)</tspan></text>
<text x="400.2" y="421.0" font-size="17.5" textLength="25.2" lengthAdjust="spacingAndGlyphs"><tspan font-size="22" dy="1.2">(</tspan><tspan dy="-1.2">d</tspan><tspan font-size="22" dy="1.2">)</tspan></text>
<text x="154.9" y="676.0" font-size="17.5" textLength="22.5" lengthAdjust="spacingAndGlyphs"><tspan font-size="22" dy="1.2">(</tspan><tspan dy="-1.2">e</tspan><tspan font-size="22" dy="1.2">)</tspan></text>
<text x="402.0" y="676.0" font-size="17.5" textLength="21.5" lengthAdjust="spacingAndGlyphs"><tspan font-size="22" dy="1.2">(</tspan><tspan dy="-1.2">f</tspan><tspan font-size="22" dy="1.2">)</tspan></text>
<rect x="153.5" y="328.3" width="218.3" height="14.5" fill="url(#inferno)" stroke="#000" stroke-width="1.4"/>
<line x1="153.50" y1="342.8" x2="153.50" y2="349.8" stroke="#000" stroke-width="1.4"/>
<text x="153.5" y="370.8" font-size="17" text-anchor="middle" >0</text>
<line x1="208.08" y1="342.8" x2="208.08" y2="349.8" stroke="#000" stroke-width="1.4"/>
<text x="208.1" y="370.8" font-size="17" text-anchor="middle" >1</text>
<line x1="262.66" y1="342.8" x2="262.66" y2="349.8" stroke="#000" stroke-width="1.4"/>
<text x="262.7" y="370.8" font-size="17" text-anchor="middle" >2</text>
<line x1="317.24" y1="342.8" x2="317.24" y2="349.8" stroke="#000" stroke-width="1.4"/>
<text x="317.2" y="370.8" font-size="17" text-anchor="middle" >3</text>
<line x1="371.82" y1="342.8" x2="371.82" y2="349.8" stroke="#000" stroke-width="1.4"/>
<text x="371.8" y="370.8" font-size="17" text-anchor="middle" >4</text>
<text x="188.7" y="393.4" font-size="17" textLength="149.5" lengthAdjust="spacingAndGlyphs">Purcell Factor, <tspan font-style="italic">F</tspan><tspan font-style="italic" font-size="12" dy="3">P</tspan></text>
<g>
<line x1="169.2" y1="436.2" x2="169.2" y2="634.3" stroke="#7a7a7a" stroke-width="1.3" stroke-dasharray="5.6,2.5"/>
<polyline points="65.20,605.01 65.99,604.82 66.78,604.63 67.57,604.43 68.36,604.23 69.15,604.03 69.94,603.83 70.73,603.62 71.52,603.41 72.31,603.20 73.10,602.98 73.89,602.76 74.68,602.54 75.47,602.31 76.25,602.08 77.04,601.85 77.83,601.61 78.62,601.36 79.41,601.12 80.20,600.87 80.99,600.61 81.78,600.35 82.57,600.09 83.36,599.82 84.15,599.54 84.94,599.27 85.73,598.98 86.52,598.69 87.31,598.40 88.10,598.10 88.89,597.79 89.68,597.48 90.47,597.17 91.26,596.84 92.05,596.52 92.84,596.18 93.63,595.84 94.42,595.49 95.21,595.13 96.00,594.77 96.78,594.40 97.57,594.02 98.36,593.63 99.15,593.24 99.94,592.84 100.73,592.43 101.52,592.01 102.31,591.58 103.10,591.14 103.89,590.69 104.68,590.23 105.47,589.76 106.26,589.28 107.05,588.79 107.84,588.29 108.63,587.77 109.42,587.24 110.21,586.70 111.00,586.15 111.79,585.58 112.58,585.00 113.37,584.41 114.16,583.80 114.95,583.17 115.74,582.53 116.53,581.87 117.31,581.19 118.10,580.49 118.89,579.78 119.68,579.04 120.47,578.28 121.26,577.51 122.05,576.71 122.84,575.88 123.63,575.04 124.42,574.16 125.21,573.27 126.00,572.34 126.79,571.39 127.58,570.40 128.37,569.39 129.16,568.34 129.95,567.26 130.74,566.14 131.53,564.99 132.32,563.80 133.11,562.57 133.90,561.30 134.69,559.98 135.48,558.62 136.27,557.21 137.06,555.75 137.84,554.24 138.63,552.68 139.42,551.05 140.21,549.37 141.00,547.63 141.79,545.83 142.58,543.96 143.37,542.02 144.16,540.01 144.95,537.93 145.74,535.77 146.53,533.53 147.32,531.22 148.11,528.82 148.90,526.34 149.69,523.78 150.48,521.13 151.27,518.40 152.06,515.60 152.85,512.71 153.64,509.76 154.43,506.74 155.22,503.66 156.01,500.54 156.80,497.38 157.59,494.21 158.37,491.04 159.16,487.91 159.95,484.82 160.74,481.82 161.53,478.95 162.32,476.22 163.11,473.69 163.90,471.39 164.69,469.37 165.48,467.65 166.27,466.28 167.06,465.27 167.85,464.66 168.64,464.45 169.43,464.74 170.22,465.64 171.01,467.12 171.80,469.12 172.59,471.59 173.38,474.46 174.17,477.66 174.96,481.11 175.75,484.76 176.54,488.54 177.33,492.39 178.12,496.27 178.90,500.14 179.69,503.96 180.48,507.71 181.27,511.37 182.06,514.93 182.85,518.38 183.64,521.70 184.43,524.91 185.22,527.99 186.01,530.94 186.80,533.78 187.59,536.49 188.38,539.09 189.17,541.58 189.96,543.96 190.75,546.24 191.54,548.42 192.33,550.51 193.12,552.51 193.91,554.42 194.70,556.25 195.49,558.01 196.28,559.69 197.07,561.31 197.86,562.86 198.65,564.35 199.43,565.78 200.22,567.15 201.01,568.48 201.80,569.75 202.59,570.97 203.38,572.15 204.17,573.29 204.96,574.38 205.75,575.44 206.54,576.46 207.33,577.44 208.12,578.39 208.91,579.31 209.70,580.20 210.49,581.06 211.28,581.89 212.07,582.69 212.86,583.47 213.65,584.23 214.44,584.96 215.23,585.67 216.02,586.36 216.81,587.03 217.60,587.68 218.39,588.31 219.18,588.92 219.96,589.52 220.75,590.10 221.54,590.66 222.33,591.21 223.12,591.74 223.91,592.26 224.70,592.77 225.49,593.26 226.28,593.74 227.07,594.21 227.86,594.67 228.65,595.11 229.44,595.55 230.23,595.97 231.02,596.39 231.81,596.79 232.60,597.19 233.39,597.57 234.18,597.95 234.97,598.32 235.76,598.68 236.55,599.03 237.34,599.38 238.13,599.72 238.92,600.05 239.71,600.37 240.49,600.69 241.28,601.00 242.07,601.30 242.86,601.60 243.65,601.89 244.44,602.18 245.23,602.46 246.02,602.73 246.81,603.00 247.60,603.26 248.39,603.52 249.18,603.78 249.97,604.03 250.76,604.27 251.55,604.51 252.34,604.75 253.13,604.98 253.92,605.21 254.71,605.43 255.50,605.65 256.29,605.87 257.08,606.08 257.87,606.29 258.66,606.49 259.45,606.69 260.24,606.89 261.02,607.09 261.81,607.28 262.60,607.47 263.39,607.65 264.18,607.84 264.97,608.02 265.76,608.19 266.55,608.37 267.34,608.54 268.13,608.71 268.92,608.87 269.71,609.03 270.50,609.20" fill="none" stroke="#177a17" stroke-width="1.75" stroke-linejoin="round"/>
<polyline points="65.20,630.88 65.99,630.87 66.78,630.86 67.57,630.84 68.36,630.83 69.15,630.82 69.94,630.81 70.73,630.79 71.52,630.78 72.31,630.77 73.10,630.75 73.89,630.74 74.68,630.73 75.47,630.71 76.25,630.70 77.04,630.68 77.83,630.67 78.62,630.65 79.41,630.64 80.20,630.62 80.99,630.60 81.78,630.59 82.57,630.57 83.36,630.55 84.15,630.54 84.94,630.52 85.73,630.50 86.52,630.48 87.31,630.46 88.10,630.44 88.89,630.42 89.68,630.40 90.47,630.38 91.26,630.36 92.05,630.34 92.84,630.32 93.63,630.30 94.42,630.27 95.21,630.25 96.00,630.23 96.78,630.20 97.57,630.18 98.36,630.15 99.15,630.13 99.94,630.10 100.73,630.07 101.52,630.04 102.31,630.02 103.10,629.99 103.89,629.96 104.68,629.92 105.47,629.89 106.26,629.86 107.05,629.83 107.84,629.79 108.63,629.76 109.42,629.72 110.21,629.69 111.00,629.65 111.79,629.61 112.58,629.57 113.37,629.53 114.16,629.49 114.95,629.44 115.74,629.40 116.53,629.35 117.31,629.30 118.10,629.25 118.89,629.20 119.68,629.15 120.47,629.10 121.26,629.04 122.05,628.98 122.84,628.92 123.63,628.86 124.42,628.80 125.21,628.73 126.00,628.67 126.79,628.60 127.58,628.52 128.37,628.45 129.16,628.37 129.95,628.29 130.74,628.20 131.53,628.11 132.32,628.02 133.11,627.93 133.90,627.83 134.69,627.73 135.48,627.62 136.27,627.51 137.06,627.39 137.84,627.27 138.63,627.15 139.42,627.02 140.21,626.88 141.00,626.74 141.79,626.59 142.58,626.43 143.37,626.27 144.16,626.10 144.95,625.93 145.74,625.74 146.53,625.56 147.32,625.36 148.11,625.15 148.90,624.94 149.69,624.73 150.48,624.50 151.27,624.27 152.06,624.04 152.85,623.81 153.64,623.57 154.43,623.33 155.22,623.10 156.01,622.87 156.80,622.66 157.59,622.45 158.37,622.27 159.16,622.10 159.95,621.96 160.74,621.85 161.53,621.77 162.32,621.72 163.11,621.71 163.90,621.74 164.69,621.81 165.48,621.92 166.27,622.07 167.06,622.25 167.85,622.45 168.64,622.67 169.43,622.91 170.22,623.16 171.01,623.42 171.80,623.68 172.59,623.94 173.38,624.20 174.17,624.45 174.96,624.70 175.75,624.94 176.54,625.17 177.33,625.39 178.12,625.61 178.90,625.81 179.69,626.01 180.48,626.20 181.27,626.38 182.06,626.55 182.85,626.72 183.64,626.87 184.43,627.02 185.22,627.17 186.01,627.31 186.80,627.44 187.59,627.56 188.38,627.68 189.17,627.80 189.96,627.91 190.75,628.01 191.54,628.11 192.33,628.21 193.12,628.30 193.91,628.39 194.70,628.47 195.49,628.56 196.28,628.64 197.07,628.71 197.86,628.78 198.65,628.85 199.43,628.92 200.22,628.99 201.01,629.05 201.80,629.11 202.59,629.17 203.38,629.23 204.17,629.28 204.96,629.33 205.75,629.39 206.54,629.44 207.33,629.48 208.12,629.53 208.91,629.58 209.70,629.62 210.49,629.66 211.28,629.70 212.07,629.74 212.86,629.78 213.65,629.82 214.44,629.86 215.23,629.89 216.02,629.93 216.81,629.96 217.60,629.99 218.39,630.03 219.18,630.06 219.96,630.09 220.75,630.12 221.54,630.14 222.33,630.17 223.12,630.20 223.91,630.23 224.70,630.25 225.49,630.28 226.28,630.30 227.07,630.33 227.86,630.35 228.65,630.37 229.44,630.40 230.23,630.42 231.02,630.44 231.81,630.46 232.60,630.48 233.39,630.50 234.18,630.52 234.97,630.54 235.76,630.56 236.55,630.58 237.34,630.60 238.13,630.62 238.92,630.63 239.71,630.65 240.49,630.67 241.28,630.68 242.07,630.70 242.86,630.72 243.65,630.73 244.44,630.75 245.23,630.76 246.02,630.78 246.81,630.79 247.60,630.81 248.39,630.82 249.18,630.83 249.97,630.85 250.76,630.86 251.55,630.87 252.34,630.89 253.13,630.90 253.92,630.91 254.71,630.92 255.50,630.94 256.29,630.95 257.08,630.96 257.87,630.97 258.66,630.98 259.45,630.99 260.24,631.00 261.02,631.01 261.81,631.02 262.60,631.04 263.39,631.05 264.18,631.06 264.97,631.07 265.76,631.07 266.55,631.08 267.34,631.09 268.13,631.10 268.92,631.11 269.71,631.12 270.50,631.13" fill="none" stroke="#6d1073" stroke-width="1.75" stroke-linejoin="round"/>
<rect x="65.2" y="434.7" width="205.3" height="199.6" fill="none" stroke="#000" stroke-width="1.75"/>
<line x1="57.2" y1="632.80" x2="65.2" y2="632.80" stroke="#000" stroke-width="1.65"/>
<text x="23.2" y="638.3" font-size="17" text-anchor="start" textLength="24.3" lengthAdjust="spacingAndGlyphs" >0.0</text>
<line x1="57.2" y1="542.80" x2="65.2" y2="542.80" stroke="#000" stroke-width="1.65"/>
<text x="23.2" y="548.3" font-size="17" text-anchor="start" textLength="24.3" lengthAdjust="spacingAndGlyphs" >0.5</text>
<line x1="57.2" y1="452.80" x2="65.2" y2="452.80" stroke="#000" stroke-width="1.65"/>
<text x="23.2" y="458.3" font-size="17" text-anchor="start" textLength="24.3" lengthAdjust="spacingAndGlyphs" >1.0</text>
<line x1="65.20" y1="634.3" x2="65.20" y2="642.3" stroke="#000" stroke-width="1.65"/>
<line x1="106.26" y1="634.3" x2="106.26" y2="639.3" stroke="#000" stroke-width="1.3"/>
<line x1="147.32" y1="634.3" x2="147.32" y2="642.3" stroke="#000" stroke-width="1.65"/>
<line x1="188.38" y1="634.3" x2="188.38" y2="639.3" stroke="#000" stroke-width="1.3"/>
<line x1="229.44" y1="634.3" x2="229.44" y2="642.3" stroke="#000" stroke-width="1.65"/>
<line x1="270.50" y1="634.3" x2="270.50" y2="639.3" stroke="#000" stroke-width="1.3"/>
<line x1="78.7" y1="456.2" x2="91.3" y2="456.2" stroke="#177a17" stroke-width="1.7"/>
<line x1="78.7" y1="479.8" x2="91.3" y2="479.8" stroke="#6d1073" stroke-width="1.7"/>
<text x="95.2" y="461.7" font-size="17.5" font-style="italic">η<tspan font-size="12" dx="0.8" dy="2.6">s</tspan></text>
<text x="95.2" y="485.3" font-size="17.5" font-style="italic">η<tspan font-size="12" dx="0.8" dy="2.6">p</tspan></text>
<text transform="translate(12.3,536.5) rotate(-90)" font-size="17" textLength="113.6" lengthAdjust="spacingAndGlyphs" x="-56.8" y="0">Mode overlap</text>
<rect x="210.5" y="434.8" width="60.0" height="59.0" fill="#0b2b5d"/>
<clipPath id="ci1c"><rect x="210.5" y="434.8" width="60.0" height="59.0"/></clipPath>
<circle cx="240.0" cy="463.7" r="19" fill="url(#civ_s)" clip-path="url(#ci1c)"/>
<polygon points="233.00,452.70 233.00,474.80 254.30,463.70" fill="none" stroke="#111" stroke-width="1.4" stroke-dasharray="3.7,1.6"/>
<rect x="210.5" y="434.8" width="60.0" height="59.0" fill="none" stroke="#000" stroke-width="1.5"/>
<rect x="210.5" y="505.3" width="60.0" height="59.0" fill="#ff0000"/>
<polygon points="233.00,523.30 233.00,545.40 254.30,534.30" fill="none" stroke="#7a0c0c" stroke-width="1.4" stroke-dasharray="3.7,1.6"/>
<rect x="210.5" y="505.3" width="60.0" height="59.0" fill="none" stroke="#000" stroke-width="1.5"/>
</g>
<g>
<line x1="169.2" y1="691.2" x2="169.2" y2="889.3" stroke="#7a7a7a" stroke-width="1.3" stroke-dasharray="5.6,2.5"/>
<polyline points="65.20,863.69 65.99,863.52 66.78,863.35 67.57,863.18 68.36,863.01 69.15,862.83 69.94,862.65 70.73,862.47 71.52,862.28 72.31,862.09 73.10,861.90 73.89,861.71 74.68,861.51 75.47,861.31 76.25,861.10 77.04,860.89 77.83,860.68 78.62,860.46 79.41,860.24 80.20,860.02 80.99,859.79 81.78,859.56 82.57,859.33 83.36,859.09 84.15,858.84 84.94,858.59 85.73,858.34 86.52,858.08 87.31,857.82 88.10,857.55 88.89,857.27 89.68,856.99 90.47,856.71 91.26,856.42 92.05,856.12 92.84,855.82 93.63,855.51 94.42,855.20 95.21,854.87 96.00,854.55 96.78,854.21 97.57,853.87 98.36,853.52 99.15,853.16 99.94,852.79 100.73,852.42 101.52,852.03 102.31,851.64 103.10,851.24 103.89,850.83 104.68,850.41 105.47,849.98 106.26,849.54 107.05,849.09 107.84,848.62 108.63,848.15 109.42,847.66 110.21,847.16 111.00,846.65 111.79,846.12 112.58,845.58 113.37,845.03 114.16,844.46 114.95,843.87 115.74,843.27 116.53,842.65 117.31,842.01 118.10,841.35 118.89,840.68 119.68,839.98 120.47,839.27 121.26,838.53 122.05,837.76 122.84,836.98 123.63,836.17 124.42,835.33 125.21,834.46 126.00,833.57 126.79,832.65 127.58,831.69 128.37,830.70 129.16,829.68 129.95,828.62 130.74,827.52 131.53,826.38 132.32,825.20 133.11,823.98 133.90,822.70 134.69,821.38 135.48,820.01 136.27,818.59 137.06,817.10 137.84,815.56 138.63,813.96 139.42,812.28 140.21,810.54 141.00,808.73 141.79,806.84 142.58,804.86 143.37,802.81 144.16,800.67 144.95,798.43 145.74,796.10 146.53,793.67 147.32,791.14 148.11,788.50 148.90,785.76 149.69,782.90 150.48,779.94 151.27,776.87 152.06,773.69 152.85,770.42 153.64,767.05 154.43,763.60 155.22,760.08 156.01,756.51 156.80,752.93 157.59,749.35 158.37,745.81 159.16,742.37 159.95,739.06 160.74,735.94 161.53,733.07 162.32,730.51 163.11,728.32 163.90,726.55 164.69,725.26 165.48,724.47 166.27,724.22 167.06,724.60 167.85,725.69 168.64,727.44 169.43,729.79 170.22,732.67 171.01,735.97 171.80,739.60 172.59,743.48 173.38,747.53 174.17,751.66 174.96,755.81 175.75,759.95 176.54,764.02 177.33,768.00 178.12,771.87 178.90,775.61 179.69,779.21 180.48,782.66 181.27,785.97 182.06,789.13 182.85,792.15 183.64,795.03 184.43,797.77 185.22,800.38 186.01,802.87 186.80,805.24 187.59,807.50 188.38,809.66 189.17,811.71 189.96,813.67 190.75,815.53 191.54,817.32 192.33,819.02 193.12,820.65 193.91,822.21 194.70,823.70 195.49,825.12 196.28,826.49 197.07,827.80 197.86,829.06 198.65,830.27 199.43,831.43 200.22,832.54 201.01,833.62 201.80,834.65 202.59,835.64 203.38,836.60 204.17,837.52 204.96,838.41 205.75,839.27 206.54,840.10 207.33,840.90 208.12,841.67 208.91,842.42 209.70,843.14 210.49,843.85 211.28,844.52 212.07,845.18 212.86,845.82 213.65,846.44 214.44,847.04 215.23,847.62 216.02,848.18 216.81,848.73 217.60,849.26 218.39,849.78 219.18,850.28 219.96,850.77 220.75,851.25 221.54,851.71 222.33,852.17 223.12,852.61 223.91,853.03 224.70,853.45 225.49,853.86 226.28,854.26 227.07,854.64 227.86,855.02 228.65,855.39 229.44,855.75 230.23,856.10 231.02,856.44 231.81,856.78 232.60,857.11 233.39,857.43 234.18,857.74 234.97,858.05 235.76,858.35 236.55,858.64 237.34,858.93 238.13,859.21 238.92,859.49 239.71,859.76 240.49,860.02 241.28,860.28 242.07,860.53 242.86,860.78 243.65,861.02 244.44,861.26 245.23,861.50 246.02,861.73 246.81,861.95 247.60,862.17 248.39,862.39 249.18,862.60 249.97,862.81 250.76,863.02 251.55,863.22 252.34,863.42 253.13,863.61 253.92,863.80 254.71,863.99 255.50,864.17 256.29,864.36 257.08,864.53 257.87,864.71 258.66,864.88 259.45,865.05 260.24,865.22 261.02,865.38 261.81,865.54 262.60,865.70 263.39,865.86 264.18,866.01 264.97,866.16 265.76,866.31 266.55,866.46 267.34,866.60 268.13,866.75 268.92,866.89 269.71,867.02 270.50,867.16" fill="none" stroke="#6d1073" stroke-width="1.75" stroke-linejoin="round"/>
<polyline points="65.20,886.44 65.99,886.44 66.78,886.43 67.57,886.43 68.36,886.42 69.15,886.42 69.94,886.41 70.73,886.41 71.52,886.40 72.31,886.40 73.10,886.39 73.89,886.38 74.68,886.38 75.47,886.37 76.25,886.37 77.04,886.36 77.83,886.36 78.62,886.35 79.41,886.34 80.20,886.34 80.99,886.33 81.78,886.32 82.57,886.32 83.36,886.31 84.15,886.30 84.94,886.30 85.73,886.29 86.52,886.28 87.31,886.27 88.10,886.27 88.89,886.26 89.68,886.25 90.47,886.24 91.26,886.24 92.05,886.23 92.84,886.22 93.63,886.21 94.42,886.20 95.21,886.19 96.00,886.18 96.78,886.17 97.57,886.16 98.36,886.15 99.15,886.14 99.94,886.13 100.73,886.12 101.52,886.11 102.31,886.10 103.10,886.09 103.89,886.08 104.68,886.07 105.47,886.06 106.26,886.04 107.05,886.03 107.84,886.02 108.63,886.01 109.42,885.99 110.21,885.98 111.00,885.96 111.79,885.95 112.58,885.93 113.37,885.92 114.16,885.90 114.95,885.89 115.74,885.87 116.53,885.85 117.31,885.84 118.10,885.82 118.89,885.80 119.68,885.78 120.47,885.76 121.26,885.74 122.05,885.72 122.84,885.70 123.63,885.68 124.42,885.66 125.21,885.63 126.00,885.61 126.79,885.58 127.58,885.56 128.37,885.53 129.16,885.50 129.95,885.47 130.74,885.44 131.53,885.41 132.32,885.38 133.11,885.35 133.90,885.31 134.69,885.28 135.48,885.24 136.27,885.20 137.06,885.16 137.84,885.12 138.63,885.08 139.42,885.03 140.21,884.98 141.00,884.93 141.79,884.88 142.58,884.83 143.37,884.77 144.16,884.71 144.95,884.65 145.74,884.58 146.53,884.51 147.32,884.44 148.11,884.37 148.90,884.29 149.69,884.20 150.48,884.11 151.27,884.02 152.06,883.92 152.85,883.81 153.64,883.70 154.43,883.58 155.22,883.46 156.01,883.33 156.80,883.19 157.59,883.04 158.37,882.88 159.16,882.72 159.95,882.55 160.74,882.37 161.53,882.18 162.32,881.98 163.11,881.79 163.90,881.58 164.69,881.38 165.48,881.19 166.27,881.00 167.06,880.82 167.85,880.67 168.64,880.54 169.43,880.45 170.22,880.39 171.01,880.37 171.80,880.40 172.59,880.49 173.38,880.64 174.17,880.83 174.96,881.05 175.75,881.29 176.54,881.54 177.33,881.79 178.12,882.04 178.90,882.28 179.69,882.51 180.48,882.73 181.27,882.93 182.06,883.12 182.85,883.30 183.64,883.47 184.43,883.62 185.22,883.76 186.01,883.90 186.80,884.02 187.59,884.14 188.38,884.25 189.17,884.35 189.96,884.45 190.75,884.54 191.54,884.62 192.33,884.70 193.12,884.78 193.91,884.85 194.70,884.91 195.49,884.98 196.28,885.04 197.07,885.09 197.86,885.15 198.65,885.20 199.43,885.25 200.22,885.29 201.01,885.34 201.80,885.38 202.59,885.42 203.38,885.46 204.17,885.49 204.96,885.53 205.75,885.56 206.54,885.59 207.33,885.62 208.12,885.65 208.91,885.68 209.70,885.71 210.49,885.73 211.28,885.76 212.07,885.78 212.86,885.81 213.65,885.83 214.44,885.85 215.23,885.87 216.02,885.89 216.81,885.91 217.60,885.93 218.39,885.95 219.18,885.97 219.96,885.99 220.75,886.00 221.54,886.02 222.33,886.04 223.12,886.05 223.91,886.07 224.70,886.08 225.49,886.10 226.28,886.11 227.07,886.12 227.86,886.14 228.65,886.15 229.44,886.16 230.23,886.17 231.02,886.18 231.81,886.20 232.60,886.21 233.39,886.22 234.18,886.23 234.97,886.24 235.76,886.25 236.55,886.26 237.34,886.27 238.13,886.28 238.92,886.29 239.71,886.30 240.49,886.30 241.28,886.31 242.07,886.32 242.86,886.33 243.65,886.34 244.44,886.35 245.23,886.35 246.02,886.36 246.81,886.37 247.60,886.38 248.39,886.38 249.18,886.39 249.97,886.40 250.76,886.40 251.55,886.41 252.34,886.42 253.13,886.42 253.92,886.43 254.71,886.44 255.50,886.44 256.29,886.45 257.08,886.45 257.87,886.46 258.66,886.46 259.45,886.47 260.24,886.47 261.02,886.48 261.81,886.49 262.60,886.49 263.39,886.50 264.18,886.50 264.97,886.51 265.76,886.51 266.55,886.51 267.34,886.52 268.13,886.52 268.92,886.53 269.71,886.53 270.50,886.54" fill="none" stroke="#177a17" stroke-width="1.75" stroke-linejoin="round"/>
<rect x="65.2" y="689.7" width="205.3" height="199.6" fill="none" stroke="#000" stroke-width="1.75"/>
<line x1="57.2" y1="887.80" x2="65.2" y2="887.80" stroke="#000" stroke-width="1.65"/>
<text x="23.2" y="893.3" font-size="17" text-anchor="start" textLength="24.3" lengthAdjust="spacingAndGlyphs" >0.0</text>
<line x1="57.2" y1="797.80" x2="65.2" y2="797.80" stroke="#000" stroke-width="1.65"/>
<text x="23.2" y="803.3" font-size="17" text-anchor="start" textLength="24.3" lengthAdjust="spacingAndGlyphs" >0.5</text>
<line x1="57.2" y1="707.80" x2="65.2" y2="707.80" stroke="#000" stroke-width="1.65"/>
<text x="23.2" y="713.3" font-size="17" text-anchor="start" textLength="24.3" lengthAdjust="spacingAndGlyphs" >1.0</text>
<line x1="65.20" y1="889.3" x2="65.20" y2="897.3" stroke="#000" stroke-width="1.65"/>
<line x1="106.26" y1="889.3" x2="106.26" y2="894.3" stroke="#000" stroke-width="1.3"/>
<line x1="147.32" y1="889.3" x2="147.32" y2="897.3" stroke="#000" stroke-width="1.65"/>
<line x1="188.38" y1="889.3" x2="188.38" y2="894.3" stroke="#000" stroke-width="1.3"/>
<line x1="229.44" y1="889.3" x2="229.44" y2="897.3" stroke="#000" stroke-width="1.65"/>
<line x1="270.50" y1="889.3" x2="270.50" y2="894.3" stroke="#000" stroke-width="1.3"/>
<line x1="78.7" y1="711.2" x2="91.3" y2="711.2" stroke="#177a17" stroke-width="1.7"/>
<line x1="78.7" y1="734.8" x2="91.3" y2="734.8" stroke="#6d1073" stroke-width="1.7"/>
<text x="95.2" y="716.7" font-size="17.5" font-style="italic">η<tspan font-size="12" dx="0.8" dy="2.6">s</tspan></text>
<text x="95.2" y="740.3" font-size="17.5" font-style="italic">η<tspan font-size="12" dx="0.8" dy="2.6">p</tspan></text>
<text transform="translate(12.3,791.5) rotate(-90)" font-size="17" textLength="113.6" lengthAdjust="spacingAndGlyphs" x="-56.8" y="0">Mode overlap</text>
<rect x="210.5" y="689.8" width="60.0" height="59.0" fill="#0b2b5d"/>
<clipPath id="ci1e"><rect x="210.5" y="689.8" width="60.0" height="59.0"/></clipPath>
<circle cx="240.0" cy="718.7" r="30.5" fill="url(#civ_p)" clip-path="url(#ci1e)"/>
<polygon points="233.00,707.70 233.00,729.80 254.30,718.70" fill="none" stroke="#111" stroke-width="1.4" stroke-dasharray="3.7,1.6"/>
<rect x="210.5" y="689.8" width="60.0" height="59.0" fill="none" stroke="#000" stroke-width="1.5"/>
<clipPath id="ci2"><rect x="210.5" y="760.3" width="60.0" height="59.0"/></clipPath>
<g clip-path="url(#ci2)" shape-rendering="crispEdges">
<polygon points="240.00,789.30 310.00,789.30 309.93,792.48" fill="hsl(179.0,100%,50%)"/>
<polygon points="240.00,789.30 309.96,791.74 309.77,794.91" fill="hsl(177.0,100%,50%)"/>
<polygon points="240.00,789.30 309.83,794.18 309.54,797.35" fill="hsl(175.0,100%,50%)"/>
<polygon points="240.00,789.30 309.62,796.62 309.21,799.77" fill="hsl(173.0,100%,50%)"/>
<polygon points="240.00,789.30 309.32,799.04 308.81,802.18" fill="hsl(171.0,100%,50%)"/>
<polygon points="240.00,789.30 308.94,801.46 308.31,804.57" fill="hsl(169.0,100%,50%)"/>
<polygon points="240.00,789.30 308.47,803.85 307.74,806.94" fill="hsl(167.0,100%,50%)"/>
<polygon points="240.00,789.30 307.92,806.23 307.08,809.30" fill="hsl(165.0,100%,50%)"/>
<polygon points="240.00,789.30 307.29,808.59 306.34,811.63" fill="hsl(163.0,100%,50%)"/>
<polygon points="240.00,789.30 306.57,810.93 305.52,813.93" fill="hsl(161.0,100%,50%)"/>
<polygon points="240.00,789.30 305.78,813.24 304.62,816.20" fill="hsl(159.0,100%,50%)"/>
<polygon points="240.00,789.30 304.90,815.52 303.65,818.44" fill="hsl(157.0,100%,50%)"/>
<polygon points="240.00,789.30 303.95,817.77 302.59,820.64" fill="hsl(155.0,100%,50%)"/>
<polygon points="240.00,789.30 302.92,819.99 301.46,822.81" fill="hsl(153.0,100%,50%)"/>
<polygon points="240.00,789.30 301.81,822.16 300.25,824.93" fill="hsl(151.0,100%,50%)"/>
<polygon points="240.00,789.30 300.62,824.30 298.97,827.01" fill="hsl(149.0,100%,50%)"/>
<polygon points="240.00,789.30 299.36,826.39 297.62,829.05" fill="hsl(147.0,100%,50%)"/>
<polygon points="240.00,789.30 298.03,828.44 296.20,831.04" fill="hsl(145.0,100%,50%)"/>
<polygon points="240.00,789.30 296.63,830.44 294.71,832.97" fill="hsl(143.0,100%,50%)"/>
<polygon points="240.00,789.30 295.16,832.40 293.15,834.85" fill="hsl(141.0,100%,50%)"/>
<polygon points="240.00,789.30 293.62,834.30 291.53,836.68" fill="hsl(139.0,100%,50%)"/>
<polygon points="240.00,789.30 292.02,836.14 289.84,838.45" fill="hsl(137.0,100%,50%)"/>
<polygon points="240.00,789.30 290.35,837.93 288.10,840.16" fill="hsl(135.0,100%,50%)"/>
<polygon points="240.00,789.30 288.63,839.65 286.29,841.81" fill="hsl(133.0,100%,50%)"/>
<polygon points="240.00,789.30 286.84,841.32 284.43,843.39" fill="hsl(131.0,100%,50%)"/>
<polygon points="240.00,789.30 285.00,842.92 282.52,844.91" fill="hsl(129.0,100%,50%)"/>
<polygon points="240.00,789.30 283.10,844.46 280.55,846.36" fill="hsl(127.0,100%,50%)"/>
<polygon points="240.00,789.30 281.14,845.93 278.53,847.74" fill="hsl(125.0,100%,50%)"/>
<polygon points="240.00,789.30 279.14,847.33 276.47,849.05" fill="hsl(123.0,100%,50%)"/>
<polygon points="240.00,789.30 277.09,848.66 274.36,850.28" fill="hsl(121.0,100%,50%)"/>
<polygon points="240.00,789.30 275.00,849.92 272.21,851.45" fill="hsl(119.0,100%,50%)"/>
<polygon points="240.00,789.30 272.86,851.11 270.03,852.53" fill="hsl(117.0,100%,50%)"/>
<polygon points="240.00,789.30 270.69,852.22 267.80,853.54" fill="hsl(115.0,100%,50%)"/>
<polygon points="240.00,789.30 268.47,853.25 265.54,854.47" fill="hsl(113.0,100%,50%)"/>
<polygon points="240.00,789.30 266.22,854.20 263.25,855.33" fill="hsl(111.0,100%,50%)"/>
<polygon points="240.00,789.30 263.94,855.08 260.93,856.10" fill="hsl(109.0,100%,50%)"/>
<polygon points="240.00,789.30 261.63,855.87 258.59,856.79" fill="hsl(107.0,100%,50%)"/>
<polygon points="240.00,789.30 259.29,856.59 256.22,857.39" fill="hsl(105.0,100%,50%)"/>
<polygon points="240.00,789.30 256.93,857.22 253.84,857.92" fill="hsl(103.0,100%,50%)"/>
<polygon points="240.00,789.30 254.55,857.77 251.43,858.36" fill="hsl(101.0,100%,50%)"/>
<polygon points="240.00,789.30 252.16,858.24 249.02,858.72" fill="hsl(99.0,100%,50%)"/>
<polygon points="240.00,789.30 249.74,858.62 246.59,858.99" fill="hsl(97.0,100%,50%)"/>
<polygon points="240.00,789.30 247.32,858.92 244.15,859.18" fill="hsl(95.0,100%,50%)"/>
<polygon points="240.00,789.30 244.88,859.13 241.71,859.28" fill="hsl(93.0,100%,50%)"/>
<polygon points="240.00,789.30 242.44,859.26 239.27,859.30" fill="hsl(91.0,100%,50%)"/>
<polygon points="240.00,789.30 240.00,859.30 236.82,859.23" fill="hsl(89.0,100%,50%)"/>
<polygon points="240.00,789.30 237.56,859.26 234.39,859.07" fill="hsl(87.0,100%,50%)"/>
<polygon points="240.00,789.30 235.12,859.13 231.95,858.84" fill="hsl(85.0,100%,50%)"/>
<polygon points="240.00,789.30 232.68,858.92 229.53,858.51" fill="hsl(83.0,100%,50%)"/>
<polygon points="240.00,789.30 230.26,858.62 227.12,858.11" fill="hsl(81.0,100%,50%)"/>
<polygon points="240.00,789.30 227.84,858.24 224.73,857.61" fill="hsl(79.0,100%,50%)"/>
<polygon points="240.00,789.30 225.45,857.77 222.36,857.04" fill="hsl(77.0,100%,50%)"/>
<polygon points="240.00,789.30 223.07,857.22 220.00,856.38" fill="hsl(75.0,100%,50%)"/>
<polygon points="240.00,789.30 220.71,856.59 217.67,855.64" fill="hsl(73.0,100%,50%)"/>
<polygon points="240.00,789.30 218.37,855.87 215.37,854.82" fill="hsl(71.0,100%,50%)"/>
<polygon points="240.00,789.30 216.06,855.08 213.10,853.92" fill="hsl(69.0,100%,50%)"/>
<polygon points="240.00,789.30 213.78,854.20 210.86,852.95" fill="hsl(67.0,100%,50%)"/>
<polygon points="240.00,789.30 211.53,853.25 208.66,851.89" fill="hsl(65.0,100%,50%)"/>
<polygon points="240.00,789.30 209.31,852.22 206.49,850.76" fill="hsl(63.0,100%,50%)"/>
<polygon points="240.00,789.30 207.14,851.11 204.37,849.55" fill="hsl(61.0,100%,50%)"/>
<polygon points="240.00,789.30 205.00,849.92 202.29,848.27" fill="hsl(59.0,100%,50%)"/>
<polygon points="240.00,789.30 202.91,848.66 200.25,846.92" fill="hsl(57.0,100%,50%)"/>
<polygon points="240.00,789.30 200.86,847.33 198.26,845.50" fill="hsl(55.0,100%,50%)"/>
<polygon points="240.00,789.30 198.86,845.93 196.33,844.01" fill="hsl(53.0,100%,50%)"/>
<polygon points="240.00,789.30 196.90,844.46 194.45,842.45" fill="hsl(51.0,100%,50%)"/>
<polygon points="240.00,789.30 195.00,842.92 192.62,840.83" fill="hsl(49.0,100%,50%)"/>
<polygon points="240.00,789.30 193.16,841.32 190.85,839.14" fill="hsl(47.0,100%,50%)"/>
<polygon points="240.00,789.30 191.37,839.65 189.14,837.40" fill="hsl(45.0,100%,50%)"/>
<polygon points="240.00,789.30 189.65,837.93 187.49,835.59" fill="hsl(43.0,100%,50%)"/>
<polygon points="240.00,789.30 187.98,836.14 185.91,833.73" fill="hsl(41.0,100%,50%)"/>
<polygon points="240.00,789.30 186.38,834.30 184.39,831.82" fill="hsl(39.0,100%,50%)"/>
<polygon points="240.00,789.30 184.84,832.40 182.94,829.85" fill="hsl(37.0,100%,50%)"/>
<polygon points="240.00,789.30 183.37,830.44 181.56,827.83" fill="hsl(35.0,100%,50%)"/>
<polygon points="240.00,789.30 181.97,828.44 180.25,825.77" fill="hsl(33.0,100%,50%)"/>
<polygon points="240.00,789.30 180.64,826.39 179.02,823.66" fill="hsl(31.0,100%,50%)"/>
<polygon points="240.00,789.30 179.38,824.30 177.85,821.51" fill="hsl(29.0,100%,50%)"/>
<polygon points="240.00,789.30 178.19,822.16 176.77,819.33" fill="hsl(27.0,100%,50%)"/>
<polygon points="240.00,789.30 177.08,819.99 175.76,817.10" fill="hsl(25.0,100%,50%)"/>
<polygon points="240.00,789.30 176.05,817.77 174.83,814.84" fill="hsl(23.0,100%,50%)"/>
<polygon points="240.00,789.30 175.10,815.52 173.97,812.55" fill="hsl(21.0,100%,50%)"/>
<polygon points="240.00,789.30 174.22,813.24 173.20,810.23" fill="hsl(19.0,100%,50%)"/>
<polygon points="240.00,789.30 173.43,810.93 172.51,807.89" fill="hsl(17.0,100%,50%)"/>
<polygon points="240.00,789.30 172.71,808.59 171.91,805.52" fill="hsl(15.0,100%,50%)"/>
<polygon points="240.00,789.30 172.08,806.23 171.38,803.14" fill="hsl(13.0,100%,50%)"/>
<polygon points="240.00,789.30 171.53,803.85 170.94,800.73" fill="hsl(11.0,100%,50%)"/>
<polygon points="240.00,789.30 171.06,801.46 170.58,798.32" fill="hsl(9.0,100%,50%)"/>
<polygon points="240.00,789.30 170.68,799.04 170.31,795.89" fill="hsl(7.0,100%,50%)"/>
<polygon points="240.00,789.30 170.38,796.62 170.12,793.45" fill="hsl(5.0,100%,50%)"/>
<polygon points="240.00,789.30 170.17,794.18 170.02,791.01" fill="hsl(3.0,100%,50%)"/>
<polygon points="240.00,789.30 170.04,791.74 170.00,788.57" fill="hsl(1.0,100%,50%)"/>
<polygon points="240.00,789.30 170.00,789.30 170.07,786.12" fill="hsl(359.0,100%,50%)"/>
<polygon points="240.00,789.30 170.04,786.86 170.23,783.69" fill="hsl(357.0,100%,50%)"/>
<polygon points="240.00,789.30 170.17,784.42 170.46,781.25" fill="hsl(355.0,100%,50%)"/>
<polygon points="240.00,789.30 170.38,781.98 170.79,778.83" fill="hsl(353.0,100%,50%)"/>
<polygon points="240.00,789.30 170.68,779.56 171.19,776.42" fill="hsl(351.0,100%,50%)"/>
<polygon points="240.00,789.30 171.06,777.14 171.69,774.03" fill="hsl(349.0,100%,50%)"/>
<polygon points="240.00,789.30 171.53,774.75 172.26,771.66" fill="hsl(347.0,100%,50%)"/>
<polygon points="240.00,789.30 172.08,772.37 172.92,769.30" fill="hsl(345.0,100%,50%)"/>
<polygon points="240.00,789.30 172.71,770.01 173.66,766.97" fill="hsl(343.0,100%,50%)"/>
<polygon points="240.00,789.30 173.43,767.67 174.48,764.67" fill="hsl(341.0,100%,50%)"/>
<polygon points="240.00,789.30 174.22,765.36 175.38,762.40" fill="hsl(339.0,100%,50%)"/>
<polygon points="240.00,789.30 175.10,763.08 176.35,760.16" fill="hsl(337.0,100%,50%)"/>
<polygon points="240.00,789.30 176.05,760.83 177.41,757.96" fill="hsl(335.0,100%,50%)"/>
<polygon points="240.00,789.30 177.08,758.61 178.54,755.79" fill="hsl(333.0,100%,50%)"/>
<polygon points="240.00,789.30 178.19,756.44 179.75,753.67" fill="hsl(331.0,100%,50%)"/>
<polygon points="240.00,789.30 179.38,754.30 181.03,751.59" fill="hsl(329.0,100%,50%)"/>
<polygon points="240.00,789.30 180.64,752.21 182.38,749.55" fill="hsl(327.0,100%,50%)"/>
<polygon points="240.00,789.30 181.97,750.16 183.80,747.56" fill="hsl(325.0,100%,50%)"/>
<polygon points="240.00,789.30 183.37,748.16 185.29,745.63" fill="hsl(323.0,100%,50%)"/>
<polygon points="240.00,789.30 184.84,746.20 186.85,743.75" fill="hsl(321.0,100%,50%)"/>
<polygon points="240.00,789.30 186.38,744.30 188.47,741.92" fill="hsl(319.0,100%,50%)"/>
<polygon points="240.00,789.30 187.98,742.46 190.16,740.15" fill="hsl(317.0,100%,50%)"/>
<polygon points="240.00,789.30 189.65,740.67 191.90,738.44" fill="hsl(315.0,100%,50%)"/>
<polygon points="240.00,789.30 191.37,738.95 193.71,736.79" fill="hsl(313.0,100%,50%)"/>
<polygon points="240.00,789.30 193.16,737.28 195.57,735.21" fill="hsl(311.0,100%,50%)"/>
<polygon points="240.00,789.30 195.00,735.68 197.48,733.69" fill="hsl(309.0,100%,50%)"/>
<polygon points="240.00,789.30 196.90,734.14 199.45,732.24" fill="hsl(307.0,100%,50%)"/>
<polygon points="240.00,789.30 198.86,732.67 201.47,730.86" fill="hsl(305.0,100%,50%)"/>
<polygon points="240.00,789.30 200.86,731.27 203.53,729.55" fill="hsl(303.0,100%,50%)"/>
<polygon points="240.00,789.30 202.91,729.94 205.64,728.32" fill="hsl(301.0,100%,50%)"/>
<polygon points="240.00,789.30 205.00,728.68 207.79,727.15" fill="hsl(299.0,100%,50%)"/>
<polygon points="240.00,789.30 207.14,727.49 209.97,726.07" fill="hsl(297.0,100%,50%)"/>
<polygon points="240.00,789.30 209.31,726.38 212.20,725.06" fill="hsl(295.0,100%,50%)"/>
<polygon points="240.00,789.30 211.53,725.35 214.46,724.13" fill="hsl(293.0,100%,50%)"/>
<polygon points="240.00,789.30 213.78,724.40 216.75,723.27" fill="hsl(291.0,100%,50%)"/>
<polygon points="240.00,789.30 216.06,723.52 219.07,722.50" fill="hsl(289.0,100%,50%)"/>
<polygon points="240.00,789.30 218.37,722.73 221.41,721.81" fill="hsl(287.0,100%,50%)"/>
<polygon points="240.00,789.30 220.71,722.01 223.78,721.21" fill="hsl(285.0,100%,50%)"/>
<polygon points="240.00,789.30 223.07,721.38 226.16,720.68" fill="hsl(283.0,100%,50%)"/>
<polygon points="240.00,789.30 225.45,720.83 228.57,720.24" fill="hsl(281.0,100%,50%)"/>
<polygon points="240.00,789.30 227.84,720.36 230.98,719.88" fill="hsl(279.0,100%,50%)"/>
<polygon points="240.00,789.30 230.26,719.98 233.41,719.61" fill="hsl(277.0,100%,50%)"/>
<polygon points="240.00,789.30 232.68,719.68 235.85,719.42" fill="hsl(275.0,100%,50%)"/>
<polygon points="240.00,789.30 235.12,719.47 238.29,719.32" fill="hsl(273.0,100%,50%)"/>
<polygon points="240.00,789.30 237.56,719.34 240.73,719.30" fill="hsl(271.0,100%,50%)"/>
<polygon points="240.00,789.30 240.00,719.30 243.18,719.37" fill="hsl(269.0,100%,50%)"/>
<polygon points="240.00,789.30 242.44,719.34 245.61,719.53" fill="hsl(267.0,100%,50%)"/>
<polygon points="240.00,789.30 244.88,719.47 248.05,719.76" fill="hsl(265.0,100%,50%)"/>
<polygon points="240.00,789.30 247.32,719.68 250.47,720.09" fill="hsl(263.0,100%,50%)"/>
<polygon points="240.00,789.30 249.74,719.98 252.88,720.49" fill="hsl(261.0,100%,50%)"/>
<polygon points="240.00,789.30 252.16,720.36 255.27,720.99" fill="hsl(259.0,100%,50%)"/>
<polygon points="240.00,789.30 254.55,720.83 257.64,721.56" fill="hsl(257.0,100%,50%)"/>
<polygon points="240.00,789.30 256.93,721.38 260.00,722.22" fill="hsl(255.0,100%,50%)"/>
<polygon points="240.00,789.30 259.29,722.01 262.33,722.96" fill="hsl(253.0,100%,50%)"/>
<polygon points="240.00,789.30 261.63,722.73 264.63,723.78" fill="hsl(251.0,100%,50%)"/>
<polygon points="240.00,789.30 263.94,723.52 266.90,724.68" fill="hsl(249.0,100%,50%)"/>
<polygon points="240.00,789.30 266.22,724.40 269.14,725.65" fill="hsl(247.0,100%,50%)"/>
<polygon points="240.00,789.30 268.47,725.35 271.34,726.71" fill="hsl(245.0,100%,50%)"/>
<polygon points="240.00,789.30 270.69,726.38 273.51,727.84" fill="hsl(243.0,100%,50%)"/>
<polygon points="240.00,789.30 272.86,727.49 275.63,729.05" fill="hsl(241.0,100%,50%)"/>
<polygon points="240.00,789.30 275.00,728.68 277.71,730.33" fill="hsl(239.0,100%,50%)"/>
<polygon points="240.00,789.30 277.09,729.94 279.75,731.68" fill="hsl(237.0,100%,50%)"/>
<polygon points="240.00,789.30 279.14,731.27 281.74,733.10" fill="hsl(235.0,100%,50%)"/>
<polygon points="240.00,789.30 281.14,732.67 283.67,734.59" fill="hsl(233.0,100%,50%)"/>
<polygon points="240.00,789.30 283.10,734.14 285.55,736.15" fill="hsl(231.0,100%,50%)"/>
<polygon points="240.00,789.30 285.00,735.68 287.38,737.77" fill="hsl(229.0,100%,50%)"/>
<polygon points="240.00,789.30 286.84,737.28 289.15,739.46" fill="hsl(227.0,100%,50%)"/>
<polygon points="240.00,789.30 288.63,738.95 290.86,741.20" fill="hsl(225.0,100%,50%)"/>
<polygon points="240.00,789.30 290.35,740.67 292.51,743.01" fill="hsl(223.0,100%,50%)"/>
<polygon points="240.00,789.30 292.02,742.46 294.09,744.87" fill="hsl(221.0,100%,50%)"/>
<polygon points="240.00,789.30 293.62,744.30 295.61,746.78" fill="hsl(219.0,100%,50%)"/>
<polygon points="240.00,789.30 295.16,746.20 297.06,748.75" fill="hsl(217.0,100%,50%)"/>
<polygon points="240.00,789.30 296.63,748.16 298.44,750.77" fill="hsl(215.0,100%,50%)"/>
<polygon points="240.00,789.30 298.03,750.16 299.75,752.83" fill="hsl(213.0,100%,50%)"/>
<polygon points="240.00,789.30 299.36,752.21 300.98,754.94" fill="hsl(211.0,100%,50%)"/>
<polygon points="240.00,789.30 300.62,754.30 302.15,757.09" fill="hsl(209.0,100%,50%)"/>
<polygon points="240.00,789.30 301.81,756.44 303.23,759.27" fill="hsl(207.0,100%,50%)"/>
<polygon points="240.00,789.30 302.92,758.61 304.24,761.50" fill="hsl(205.0,100%,50%)"/>
<polygon points="240.00,789.30 303.95,760.83 305.17,763.76" fill="hsl(203.0,100%,50%)"/>
<polygon points="240.00,789.30 304.90,763.08 306.03,766.05" fill="hsl(201.0,100%,50%)"/>
<polygon points="240.00,789.30 305.78,765.36 306.80,768.37" fill="hsl(199.0,100%,50%)"/>
<polygon points="240.00,789.30 306.57,767.67 307.49,770.71" fill="hsl(197.0,100%,50%)"/>
<polygon points="240.00,789.30 307.29,770.01 308.09,773.08" fill="hsl(195.0,100%,50%)"/>
<polygon points="240.00,789.30 307.92,772.37 308.62,775.46" fill="hsl(193.0,100%,50%)"/>
<polygon points="240.00,789.30 308.47,774.75 309.06,777.87" fill="hsl(191.0,100%,50%)"/>
<polygon points="240.00,789.30 308.94,777.14 309.42,780.28" fill="hsl(189.0,100%,50%)"/>
<polygon points="240.00,789.30 309.32,779.56 309.69,782.71" fill="hsl(187.0,100%,50%)"/>
<polygon points="240.00,789.30 309.62,781.98 309.88,785.15" fill="hsl(185.0,100%,50%)"/>
<polygon points="240.00,789.30 309.83,784.42 309.98,787.59" fill="hsl(183.0,100%,50%)"/>
<polygon points="240.00,789.30 309.96,786.86 310.00,790.03" fill="hsl(181.0,100%,50%)"/>
</g>
<polygon points="233.00,778.30 233.00,800.40 254.30,789.30" fill="none" stroke="#111" stroke-width="1.4" stroke-dasharray="3.7,1.6"/>
<rect x="210.5" y="760.3" width="60.0" height="59.0" fill="none" stroke="#000" stroke-width="1.5"/>
</g>
<text x="47.8" y="917.3" font-size="17" text-anchor="start" textLength="34.0" lengthAdjust="spacingAndGlyphs" >2.78</text>
<text x="130.4" y="917.3" font-size="17" text-anchor="start" textLength="34.0" lengthAdjust="spacingAndGlyphs" >2.79</text>
<text x="211.8" y="917.3" font-size="17" text-anchor="start" textLength="34.0" lengthAdjust="spacingAndGlyphs" >2.80</text>
<text x="138.6" y="943.4" font-size="17" textLength="55.0" lengthAdjust="spacingAndGlyphs"><tspan font-style="italic">ω</tspan> (eV)</text>
<g>
<clipPath id="cdd"><rect x="311.2" y="434.7" width="204.6" height="199.3"/></clipPath>
<g clip-path="url(#cdd)">
<g fill="#fff" stroke="#e6e4e8" stroke-width="0.6">
<circle cx="316.3" cy="464.9" r="1.9"/>
<circle cx="316.3" cy="524.2" r="1.9"/>
<circle cx="316.3" cy="603.3" r="1.9"/>
<circle cx="333.4" cy="435.3" r="1.9"/>
<circle cx="333.4" cy="455.0" r="1.9"/>
<circle cx="333.4" cy="474.8" r="1.9"/>
<circle cx="326.2" cy="479.0" r="1.9"/>
<circle cx="326.2" cy="470.6" r="1.9"/>
<circle cx="333.4" cy="494.6" r="1.9"/>
<circle cx="326.2" cy="518.5" r="1.9"/>
<circle cx="333.4" cy="534.1" r="1.9"/>
<circle cx="333.4" cy="553.9" r="1.9"/>
<circle cx="326.2" cy="558.1" r="1.9"/>
<circle cx="333.4" cy="573.7" r="1.9"/>
<circle cx="326.2" cy="577.9" r="1.9"/>
<circle cx="333.4" cy="593.5" r="1.9"/>
<circle cx="326.2" cy="617.4" r="1.9"/>
<circle cx="333.4" cy="633.0" r="1.9"/>
<circle cx="350.5" cy="445.2" r="1.9"/>
<circle cx="343.3" cy="449.3" r="1.9"/>
<circle cx="350.5" cy="464.9" r="1.9"/>
<circle cx="350.5" cy="484.7" r="1.9"/>
<circle cx="343.3" cy="480.5" r="1.9"/>
<circle cx="343.3" cy="627.3" r="1.9"/>
<circle cx="343.3" cy="618.9" r="1.9"/>
<circle cx="359.5" cy="480.5" r="1.9"/>
<circle cx="369.4" cy="514.4" r="1.9"/>
<circle cx="369.4" cy="534.1" r="1.9"/>
<circle cx="369.4" cy="593.5" r="1.9"/>
<circle cx="360.4" cy="609.1" r="1.9"/>
<circle cx="367.7" cy="633.0" r="1.9"/>
<circle cx="377.5" cy="449.3" r="1.9"/>
<circle cx="377.5" cy="460.7" r="1.9"/>
<circle cx="377.5" cy="607.5" r="1.9"/>
<circle cx="401.9" cy="435.3" r="1.9"/>
<circle cx="393.8" cy="488.9" r="1.9"/>
<circle cx="393.8" cy="548.2" r="1.9"/>
<circle cx="394.7" cy="589.3" r="1.9"/>
<circle cx="401.9" cy="613.2" r="1.9"/>
<circle cx="411.8" cy="441.0" r="1.9"/>
<circle cx="410.9" cy="530.0" r="1.9"/>
<circle cx="411.8" cy="587.8" r="1.9"/>
<circle cx="419.0" cy="623.1" r="1.9"/>
<circle cx="428.9" cy="439.4" r="1.9"/>
<circle cx="436.2" cy="455.0" r="1.9"/>
<circle cx="428.9" cy="450.9" r="1.9"/>
<circle cx="437.9" cy="534.1" r="1.9"/>
<circle cx="428.9" cy="609.1" r="1.9"/>
<circle cx="428.9" cy="628.8" r="1.9"/>
<circle cx="453.3" cy="563.8" r="1.9"/>
<circle cx="446.0" cy="559.6" r="1.9"/>
<circle cx="453.3" cy="583.6" r="1.9"/>
<circle cx="453.3" cy="623.1" r="1.9"/>
<circle cx="470.4" cy="455.0" r="1.9"/>
<circle cx="462.3" cy="539.8" r="1.9"/>
<circle cx="463.2" cy="549.7" r="1.9"/>
<circle cx="487.5" cy="484.7" r="1.9"/>
<circle cx="480.3" cy="528.4" r="1.9"/>
<circle cx="480.3" cy="539.8" r="1.9"/>
<circle cx="480.3" cy="559.6" r="1.9"/>
<circle cx="504.7" cy="435.3" r="1.9"/>
<circle cx="497.4" cy="439.4" r="1.9"/>
<circle cx="504.7" cy="474.8" r="1.9"/>
<circle cx="497.4" cy="479.0" r="1.9"/>
<circle cx="497.4" cy="470.6" r="1.9"/>
<circle cx="504.7" cy="494.6" r="1.9"/>
<circle cx="504.7" cy="514.4" r="1.9"/>
<circle cx="497.4" cy="538.3" r="1.9"/>
<circle cx="497.4" cy="530.0" r="1.9"/>
<circle cx="497.4" cy="549.7" r="1.9"/>
<circle cx="504.7" cy="573.7" r="1.9"/>
<circle cx="497.4" cy="577.9" r="1.9"/>
<circle cx="497.4" cy="569.5" r="1.9"/>
<circle cx="514.6" cy="460.7" r="1.9"/>
<circle cx="514.6" cy="488.9" r="1.9"/>
<circle cx="514.6" cy="508.7" r="1.9"/>
<circle cx="514.6" cy="528.4" r="1.9"/>
<circle cx="514.6" cy="520.1" r="1.9"/>
<circle cx="514.6" cy="559.6" r="1.9"/>
<circle cx="514.6" cy="607.5" r="1.9"/>
</g>
<polyline points="357.2,465.8 476.8,534.5 357.2,603.2" fill="none" stroke="#bdbdc9" stroke-width="0.7"/>
<line x1="357.2" y1="465.8" x2="357.2" y2="603.2" stroke="#a2a2b2" stroke-width="0.8" stroke-dasharray="1,1"/>
<circle cx="316.3" cy="445.2" r="2.2" fill="rgb(230,230,239)"/>
<circle cx="316.3" cy="484.7" r="2.2" fill="rgb(230,230,239)"/>
<circle cx="316.3" cy="504.5" r="2.2" fill="rgb(230,230,239)"/>
<circle cx="316.3" cy="544.0" r="2.2" fill="rgb(237,237,239)"/>
<circle cx="316.3" cy="563.8" r="2.2" fill="rgb(230,230,239)"/>
<circle cx="316.3" cy="583.6" r="2.2" fill="rgb(232,232,239)"/>
<circle cx="316.3" cy="623.1" r="2.2" fill="rgb(230,230,239)"/>
<circle cx="326.2" cy="439.4" r="2.2" fill="rgb(237,237,239)"/>
<circle cx="326.2" cy="459.2" r="2.2" fill="rgb(230,230,239)"/>
<circle cx="326.2" cy="450.9" r="2.2" fill="rgb(228,228,239)"/>
<circle cx="326.2" cy="498.8" r="2.2" fill="rgb(237,237,239)"/>
<circle cx="326.2" cy="490.4" r="2.2" fill="rgb(234,234,239)"/>
<circle cx="333.4" cy="514.4" r="2.2" fill="rgb(230,230,239)"/>
<circle cx="326.2" cy="510.2" r="2.2" fill="rgb(237,237,239)"/>
<circle cx="326.2" cy="538.3" r="2.2" fill="rgb(232,232,239)"/>
<circle cx="326.2" cy="530.0" r="2.2" fill="rgb(237,237,239)"/>
<circle cx="326.2" cy="549.7" r="2.2" fill="rgb(235,235,239)"/>
<circle cx="326.2" cy="569.5" r="2.2" fill="rgb(230,230,239)"/>
<circle cx="326.2" cy="597.6" r="2.2" fill="rgb(230,230,239)"/>
<circle cx="326.2" cy="589.3" r="2.2" fill="rgb(231,231,239)"/>
<circle cx="333.4" cy="613.2" r="2.2" fill="rgb(222,222,239)"/>
<circle cx="326.2" cy="609.1" r="2.2" fill="rgb(230,230,239)"/>
<circle cx="326.2" cy="628.8" r="2.2" fill="rgb(228,228,239)"/>
<circle cx="343.3" cy="441.0" r="2.2" fill="rgb(230,230,239)"/>
<circle cx="343.3" cy="469.1" r="2.2" fill="rgb(126,126,214)"/>
<circle cx="343.3" cy="460.7" r="2.2" fill="rgb(126,126,214)"/>
<circle cx="343.3" cy="488.9" r="2.2" fill="rgb(219,219,239)"/>
<circle cx="350.5" cy="504.5" r="2.2" fill="rgb(231,231,239)"/>
<circle cx="343.3" cy="508.7" r="2.2" fill="rgb(226,226,239)"/>
<circle cx="343.3" cy="500.3" r="2.2" fill="rgb(229,229,239)"/>
<circle cx="350.5" cy="524.2" r="2.2" fill="rgb(226,226,239)"/>
<circle cx="343.3" cy="528.4" r="2.2" fill="rgb(225,225,239)"/>
<circle cx="343.3" cy="520.1" r="2.2" fill="rgb(226,226,239)"/>
<circle cx="350.5" cy="544.0" r="2.2" fill="rgb(214,214,239)"/>
<circle cx="343.3" cy="548.2" r="2.2" fill="rgb(225,225,239)"/>
<circle cx="343.3" cy="539.8" r="2.2" fill="rgb(226,226,239)"/>
<circle cx="350.5" cy="563.8" r="2.2" fill="rgb(231,231,239)"/>
<circle cx="343.3" cy="568.0" r="2.2" fill="rgb(234,234,239)"/>
<circle cx="343.3" cy="559.6" r="2.2" fill="rgb(231,231,239)"/>
<circle cx="350.5" cy="583.6" r="2.2" fill="rgb(222,222,239)"/>
<circle cx="343.3" cy="587.8" r="2.2" fill="rgb(212,212,239)"/>
<circle cx="343.3" cy="579.4" r="2.2" fill="rgb(225,225,239)"/>
<circle cx="350.5" cy="603.3" r="2.2" fill="rgb(212,212,239)"/>
<circle cx="343.3" cy="607.5" r="2.2" fill="rgb(126,126,214)"/>
<circle cx="343.3" cy="599.2" r="2.2" fill="rgb(126,126,214)"/>
<circle cx="350.5" cy="623.1" r="2.2" fill="rgb(222,222,239)"/>
<circle cx="367.7" cy="435.3" r="2.2" fill="rgb(235,235,239)"/>
<circle cx="360.4" cy="439.4" r="2.2" fill="rgb(228,228,239)"/>
<circle cx="367.7" cy="455.0" r="2.2" fill="rgb(126,126,214)"/>
<circle cx="360.4" cy="459.2" r="2.2" fill="rgb(212,212,239)"/>
<circle cx="360.4" cy="450.9" r="2.2" fill="rgb(126,126,214)"/>
<circle cx="369.4" cy="474.8" r="2.2" fill="rgb(222,222,239)"/>
<circle cx="359.5" cy="469.1" r="2.2" fill="rgb(226,14,28)"/>
<circle cx="369.4" cy="494.6" r="2.2" fill="rgb(217,217,239)"/>
<circle cx="359.5" cy="500.3" r="2.2" fill="rgb(222,222,239)"/>
<circle cx="359.5" cy="488.9" r="2.2" fill="rgb(126,126,214)"/>
<circle cx="359.5" cy="520.1" r="2.2" fill="rgb(217,217,239)"/>
<circle cx="359.5" cy="508.7" r="2.2" fill="rgb(217,217,239)"/>
<circle cx="359.5" cy="539.8" r="2.2" fill="rgb(217,217,239)"/>
<circle cx="359.5" cy="528.4" r="2.2" fill="rgb(222,222,239)"/>
<circle cx="369.4" cy="553.9" r="2.2" fill="rgb(225,225,239)"/>
<circle cx="359.5" cy="559.6" r="2.2" fill="rgb(234,234,239)"/>
<circle cx="359.5" cy="548.2" r="2.2" fill="rgb(225,225,239)"/>
<circle cx="369.4" cy="573.7" r="2.2" fill="rgb(226,226,239)"/>
<circle cx="359.5" cy="579.4" r="2.2" fill="rgb(126,126,214)"/>
<circle cx="359.5" cy="568.0" r="2.2" fill="rgb(225,225,239)"/>
<circle cx="359.5" cy="599.2" r="2.2" fill="rgb(226,14,28)"/>
<circle cx="359.5" cy="587.8" r="2.2" fill="rgb(222,222,239)"/>
<circle cx="367.7" cy="613.2" r="2.2" fill="rgb(126,126,214)"/>
<circle cx="360.4" cy="617.4" r="2.2" fill="rgb(126,126,214)"/>
<circle cx="360.4" cy="628.8" r="2.2" fill="rgb(222,222,239)"/>
<circle cx="384.8" cy="445.2" r="2.2" fill="rgb(230,230,239)"/>
<circle cx="377.5" cy="441.0" r="2.2" fill="rgb(237,237,239)"/>
<circle cx="384.8" cy="464.9" r="2.2" fill="rgb(219,219,239)"/>
<circle cx="377.5" cy="469.1" r="2.2" fill="rgb(212,212,239)"/>
<circle cx="386.6" cy="484.7" r="2.2" fill="rgb(226,226,239)"/>
<circle cx="376.7" cy="490.4" r="2.2" fill="rgb(217,217,239)"/>
<circle cx="376.7" cy="479.0" r="2.2" fill="rgb(126,126,214)"/>
<circle cx="386.6" cy="504.5" r="2.2" fill="rgb(234,234,239)"/>
<circle cx="376.7" cy="510.2" r="2.2" fill="rgb(217,217,239)"/>
<circle cx="376.7" cy="498.8" r="2.2" fill="rgb(231,231,239)"/>
<circle cx="386.6" cy="524.2" r="2.2" fill="rgb(229,229,239)"/>
<circle cx="376.7" cy="530.0" r="2.2" fill="rgb(219,219,239)"/>
<circle cx="376.7" cy="518.5" r="2.2" fill="rgb(219,219,239)"/>
<circle cx="386.6" cy="544.0" r="2.2" fill="rgb(229,229,239)"/>
<circle cx="376.7" cy="549.7" r="2.2" fill="rgb(217,217,239)"/>
<circle cx="376.7" cy="538.3" r="2.2" fill="rgb(222,222,239)"/>
<circle cx="386.6" cy="563.8" r="2.2" fill="rgb(229,229,239)"/>
<circle cx="376.7" cy="569.5" r="2.2" fill="rgb(217,217,239)"/>
<circle cx="376.7" cy="558.1" r="2.2" fill="rgb(229,229,239)"/>
<circle cx="386.6" cy="583.6" r="2.2" fill="rgb(222,222,239)"/>
<circle cx="376.7" cy="589.3" r="2.2" fill="rgb(126,126,214)"/>
<circle cx="376.7" cy="577.9" r="2.2" fill="rgb(222,222,239)"/>
<circle cx="384.8" cy="603.3" r="2.2" fill="rgb(234,234,239)"/>
<circle cx="377.5" cy="599.2" r="2.2" fill="rgb(222,222,239)"/>
<circle cx="384.8" cy="623.1" r="2.2" fill="rgb(230,230,239)"/>
<circle cx="377.5" cy="627.3" r="2.2" fill="rgb(232,232,239)"/>
<circle cx="377.5" cy="618.9" r="2.2" fill="rgb(222,222,239)"/>
<circle cx="394.7" cy="439.4" r="2.2" fill="rgb(234,234,239)"/>
<circle cx="401.9" cy="455.0" r="2.2" fill="rgb(230,230,239)"/>
<circle cx="394.7" cy="459.2" r="2.2" fill="rgb(237,237,239)"/>
<circle cx="394.7" cy="450.9" r="2.2" fill="rgb(235,235,239)"/>
<circle cx="401.9" cy="474.8" r="2.2" fill="rgb(225,225,239)"/>
<circle cx="394.7" cy="479.0" r="2.2" fill="rgb(231,231,239)"/>
<circle cx="394.7" cy="470.6" r="2.2" fill="rgb(226,226,239)"/>
<circle cx="403.7" cy="494.6" r="2.2" fill="rgb(226,226,239)"/>
<circle cx="393.8" cy="500.3" r="2.2" fill="rgb(231,231,239)"/>
<circle cx="403.7" cy="514.4" r="2.2" fill="rgb(214,214,239)"/>
<circle cx="393.8" cy="520.1" r="2.2" fill="rgb(217,217,239)"/>
<circle cx="393.8" cy="508.7" r="2.2" fill="rgb(225,225,239)"/>
<circle cx="403.7" cy="534.1" r="2.2" fill="rgb(214,214,239)"/>
<circle cx="393.8" cy="539.8" r="2.2" fill="rgb(225,225,239)"/>
<circle cx="393.8" cy="528.4" r="2.2" fill="rgb(229,229,239)"/>
<circle cx="403.7" cy="553.9" r="2.2" fill="rgb(217,217,239)"/>
<circle cx="393.8" cy="559.6" r="2.2" fill="rgb(214,214,239)"/>
<circle cx="403.7" cy="573.7" r="2.2" fill="rgb(222,222,239)"/>
<circle cx="393.8" cy="579.4" r="2.2" fill="rgb(226,226,239)"/>
<circle cx="393.8" cy="568.0" r="2.2" fill="rgb(222,222,239)"/>
<circle cx="401.9" cy="593.5" r="2.2" fill="rgb(217,217,239)"/>
<circle cx="394.7" cy="597.6" r="2.2" fill="rgb(217,217,239)"/>
<circle cx="394.7" cy="617.4" r="2.2" fill="rgb(237,237,239)"/>
<circle cx="394.7" cy="609.1" r="2.2" fill="rgb(237,237,239)"/>
<circle cx="401.9" cy="633.0" r="2.2" fill="rgb(235,235,239)"/>
<circle cx="394.7" cy="628.8" r="2.2" fill="rgb(228,228,239)"/>
<circle cx="419.0" cy="445.2" r="2.2" fill="rgb(230,230,239)"/>
<circle cx="411.8" cy="449.3" r="2.2" fill="rgb(230,230,239)"/>
<circle cx="419.0" cy="464.9" r="2.2" fill="rgb(226,226,239)"/>
<circle cx="411.8" cy="469.1" r="2.2" fill="rgb(214,214,239)"/>
<circle cx="411.8" cy="460.7" r="2.2" fill="rgb(225,225,239)"/>
<circle cx="419.0" cy="484.7" r="2.2" fill="rgb(217,217,239)"/>
<circle cx="411.8" cy="488.9" r="2.2" fill="rgb(217,217,239)"/>
<circle cx="411.8" cy="480.5" r="2.2" fill="rgb(231,231,239)"/>
<circle cx="420.8" cy="504.5" r="2.2" fill="rgb(231,231,239)"/>
<circle cx="410.9" cy="510.2" r="2.2" fill="rgb(222,222,239)"/>
<circle cx="410.9" cy="498.8" r="2.2" fill="rgb(214,214,239)"/>
<circle cx="420.8" cy="524.2" r="2.2" fill="rgb(219,219,239)"/>
<circle cx="410.9" cy="518.5" r="2.2" fill="rgb(229,229,239)"/>
<circle cx="420.8" cy="544.0" r="2.2" fill="rgb(222,222,239)"/>
<circle cx="410.9" cy="549.7" r="2.2" fill="rgb(226,226,239)"/>
<circle cx="410.9" cy="538.3" r="2.2" fill="rgb(219,219,239)"/>
<circle cx="420.8" cy="563.8" r="2.2" fill="rgb(222,222,239)"/>
<circle cx="410.9" cy="569.5" r="2.2" fill="rgb(217,217,239)"/>
<circle cx="410.9" cy="558.1" r="2.2" fill="rgb(219,219,239)"/>
<circle cx="419.0" cy="583.6" r="2.2" fill="rgb(234,234,239)"/>
<circle cx="411.8" cy="579.4" r="2.2" fill="rgb(229,229,239)"/>
<circle cx="419.0" cy="603.3" r="2.2" fill="rgb(222,222,239)"/>
<circle cx="411.8" cy="607.5" r="2.2" fill="rgb(229,229,239)"/>
<circle cx="411.8" cy="599.2" r="2.2" fill="rgb(231,231,239)"/>
<circle cx="411.8" cy="627.3" r="2.2" fill="rgb(230,230,239)"/>
<circle cx="411.8" cy="618.9" r="2.2" fill="rgb(231,231,239)"/>
<circle cx="436.2" cy="435.3" r="2.2" fill="rgb(228,228,239)"/>
<circle cx="428.9" cy="459.2" r="2.2" fill="rgb(237,237,239)"/>
<circle cx="436.2" cy="474.8" r="2.2" fill="rgb(226,226,239)"/>
<circle cx="428.9" cy="479.0" r="2.2" fill="rgb(217,217,239)"/>
<circle cx="428.9" cy="470.6" r="2.2" fill="rgb(226,226,239)"/>
<circle cx="436.2" cy="494.6" r="2.2" fill="rgb(214,214,239)"/>
<circle cx="428.9" cy="498.8" r="2.2" fill="rgb(219,219,239)"/>
<circle cx="428.9" cy="490.4" r="2.2" fill="rgb(222,222,239)"/>
<circle cx="437.9" cy="514.4" r="2.2" fill="rgb(226,226,239)"/>
<circle cx="428.0" cy="520.1" r="2.2" fill="rgb(226,226,239)"/>
<circle cx="428.0" cy="508.7" r="2.2" fill="rgb(217,217,239)"/>
<circle cx="428.0" cy="539.8" r="2.2" fill="rgb(219,219,239)"/>
<circle cx="428.0" cy="528.4" r="2.2" fill="rgb(231,231,239)"/>
<circle cx="437.9" cy="553.9" r="2.2" fill="rgb(222,222,239)"/>
<circle cx="428.0" cy="559.6" r="2.2" fill="rgb(219,219,239)"/>
<circle cx="428.0" cy="548.2" r="2.2" fill="rgb(219,219,239)"/>
<circle cx="436.2" cy="573.7" r="2.2" fill="rgb(226,226,239)"/>
<circle cx="428.9" cy="577.9" r="2.2" fill="rgb(234,234,239)"/>
<circle cx="428.9" cy="569.5" r="2.2" fill="rgb(217,217,239)"/>
<circle cx="436.2" cy="593.5" r="2.2" fill="rgb(226,226,239)"/>
<circle cx="428.9" cy="597.6" r="2.2" fill="rgb(225,225,239)"/>
<circle cx="428.9" cy="589.3" r="2.2" fill="rgb(231,231,239)"/>
<circle cx="436.2" cy="613.2" r="2.2" fill="rgb(230,230,239)"/>
<circle cx="428.9" cy="617.4" r="2.2" fill="rgb(237,237,239)"/>
<circle cx="436.2" cy="633.0" r="2.2" fill="rgb(237,237,239)"/>
<circle cx="453.3" cy="445.2" r="2.2" fill="rgb(234,234,239)"/>
<circle cx="446.0" cy="449.3" r="2.2" fill="rgb(234,234,239)"/>
<circle cx="446.0" cy="441.0" r="2.2" fill="rgb(237,237,239)"/>
<circle cx="453.3" cy="464.9" r="2.2" fill="rgb(231,231,239)"/>
<circle cx="446.0" cy="469.1" r="2.2" fill="rgb(229,229,239)"/>
<circle cx="446.0" cy="460.7" r="2.2" fill="rgb(226,226,239)"/>
<circle cx="453.3" cy="484.7" r="2.2" fill="rgb(226,226,239)"/>
<circle cx="446.0" cy="488.9" r="2.2" fill="rgb(226,226,239)"/>
<circle cx="446.0" cy="480.5" r="2.2" fill="rgb(234,234,239)"/>
<circle cx="453.3" cy="504.5" r="2.2" fill="rgb(226,226,239)"/>
<circle cx="446.0" cy="508.7" r="2.2" fill="rgb(214,214,239)"/>
<circle cx="446.0" cy="500.3" r="2.2" fill="rgb(225,225,239)"/>
<circle cx="455.1" cy="524.2" r="2.2" fill="rgb(126,126,214)"/>
<circle cx="445.2" cy="530.0" r="2.2" fill="rgb(225,225,239)"/>
<circle cx="445.2" cy="518.5" r="2.2" fill="rgb(229,229,239)"/>
<circle cx="455.1" cy="544.0" r="2.2" fill="rgb(126,126,214)"/>
<circle cx="445.2" cy="549.7" r="2.2" fill="rgb(217,217,239)"/>
<circle cx="445.2" cy="538.3" r="2.2" fill="rgb(217,217,239)"/>
<circle cx="446.0" cy="568.0" r="2.2" fill="rgb(226,226,239)"/>
<circle cx="446.0" cy="587.8" r="2.2" fill="rgb(231,231,239)"/>
<circle cx="446.0" cy="579.4" r="2.2" fill="rgb(214,214,239)"/>
<circle cx="453.3" cy="603.3" r="2.2" fill="rgb(229,229,239)"/>
<circle cx="446.0" cy="607.5" r="2.2" fill="rgb(226,226,239)"/>
<circle cx="446.0" cy="599.2" r="2.2" fill="rgb(217,217,239)"/>
<circle cx="446.0" cy="627.3" r="2.2" fill="rgb(230,230,239)"/>
<circle cx="446.0" cy="618.9" r="2.2" fill="rgb(235,235,239)"/>
<circle cx="470.4" cy="435.3" r="2.2" fill="rgb(230,230,239)"/>
<circle cx="463.2" cy="439.4" r="2.2" fill="rgb(237,237,239)"/>
<circle cx="463.2" cy="459.2" r="2.2" fill="rgb(230,230,239)"/>
<circle cx="463.2" cy="450.9" r="2.2" fill="rgb(228,228,239)"/>
<circle cx="470.4" cy="474.8" r="2.2" fill="rgb(231,231,239)"/>
<circle cx="463.2" cy="479.0" r="2.2" fill="rgb(219,219,239)"/>
<circle cx="463.2" cy="470.6" r="2.2" fill="rgb(214,214,239)"/>
<circle cx="470.4" cy="494.6" r="2.2" fill="rgb(222,222,239)"/>
<circle cx="463.2" cy="498.8" r="2.2" fill="rgb(234,234,239)"/>
<circle cx="463.2" cy="490.4" r="2.2" fill="rgb(229,229,239)"/>
<circle cx="470.4" cy="514.4" r="2.2" fill="rgb(222,222,239)"/>
<circle cx="463.2" cy="518.5" r="2.2" fill="rgb(212,212,239)"/>
<circle cx="463.2" cy="510.2" r="2.2" fill="rgb(217,217,239)"/>
<circle cx="472.2" cy="534.1" r="2.2" fill="rgb(226,14,28)"/>
<circle cx="462.3" cy="528.4" r="2.2" fill="rgb(212,212,239)"/>
<circle cx="470.4" cy="553.9" r="2.2" fill="rgb(222,222,239)"/>
<circle cx="463.2" cy="558.1" r="2.2" fill="rgb(225,225,239)"/>
<circle cx="470.4" cy="573.7" r="2.2" fill="rgb(217,217,239)"/>
<circle cx="463.2" cy="577.9" r="2.2" fill="rgb(222,222,239)"/>
<circle cx="463.2" cy="569.5" r="2.2" fill="rgb(222,222,239)"/>
<circle cx="470.4" cy="593.5" r="2.2" fill="rgb(217,217,239)"/>
<circle cx="463.2" cy="597.6" r="2.2" fill="rgb(219,219,239)"/>
<circle cx="463.2" cy="589.3" r="2.2" fill="rgb(231,231,239)"/>
<circle cx="470.4" cy="613.2" r="2.2" fill="rgb(235,235,239)"/>
<circle cx="463.2" cy="617.4" r="2.2" fill="rgb(228,228,239)"/>
<circle cx="463.2" cy="609.1" r="2.2" fill="rgb(232,232,239)"/>
<circle cx="470.4" cy="633.0" r="2.2" fill="rgb(235,235,239)"/>
<circle cx="463.2" cy="628.8" r="2.2" fill="rgb(230,230,239)"/>
<circle cx="487.5" cy="445.2" r="2.2" fill="rgb(230,230,239)"/>
<circle cx="480.3" cy="449.3" r="2.2" fill="rgb(228,228,239)"/>
<circle cx="480.3" cy="441.0" r="2.2" fill="rgb(230,230,239)"/>
<circle cx="487.5" cy="464.9" r="2.2" fill="rgb(225,225,239)"/>
<circle cx="480.3" cy="469.1" r="2.2" fill="rgb(225,225,239)"/>
<circle cx="480.3" cy="460.7" r="2.2" fill="rgb(234,234,239)"/>
<circle cx="480.3" cy="488.9" r="2.2" fill="rgb(217,217,239)"/>
<circle cx="480.3" cy="480.5" r="2.2" fill="rgb(234,234,239)"/>
<circle cx="487.5" cy="504.5" r="2.2" fill="rgb(219,219,239)"/>
<circle cx="480.3" cy="508.7" r="2.2" fill="rgb(212,212,239)"/>
<circle cx="480.3" cy="500.3" r="2.2" fill="rgb(219,219,239)"/>
<circle cx="487.5" cy="524.2" r="2.2" fill="rgb(126,126,214)"/>
<circle cx="480.3" cy="520.1" r="2.2" fill="rgb(126,126,214)"/>
<circle cx="487.5" cy="544.0" r="2.2" fill="rgb(126,126,214)"/>
<circle cx="480.3" cy="548.2" r="2.2" fill="rgb(126,126,214)"/>
<circle cx="487.5" cy="563.8" r="2.2" fill="rgb(214,214,239)"/>
<circle cx="480.3" cy="568.0" r="2.2" fill="rgb(234,234,239)"/>
<circle cx="487.5" cy="583.6" r="2.2" fill="rgb(234,234,239)"/>
<circle cx="480.3" cy="587.8" r="2.2" fill="rgb(222,222,239)"/>
<circle cx="480.3" cy="579.4" r="2.2" fill="rgb(225,225,239)"/>
<circle cx="487.5" cy="603.3" r="2.2" fill="rgb(217,217,239)"/>
<circle cx="480.3" cy="607.5" r="2.2" fill="rgb(217,217,239)"/>
<circle cx="480.3" cy="599.2" r="2.2" fill="rgb(231,231,239)"/>
<circle cx="487.5" cy="623.1" r="2.2" fill="rgb(228,228,239)"/>
<circle cx="480.3" cy="627.3" r="2.2" fill="rgb(230,230,239)"/>
<circle cx="480.3" cy="618.9" r="2.2" fill="rgb(232,232,239)"/>
<circle cx="504.7" cy="455.0" r="2.2" fill="rgb(235,235,239)"/>
<circle cx="497.4" cy="459.2" r="2.2" fill="rgb(230,230,239)"/>
<circle cx="497.4" cy="450.9" r="2.2" fill="rgb(235,235,239)"/>
<circle cx="497.4" cy="498.8" r="2.2" fill="rgb(231,231,239)"/>
<circle cx="497.4" cy="490.4" r="2.2" fill="rgb(235,235,239)"/>
<circle cx="497.4" cy="518.5" r="2.2" fill="rgb(222,222,239)"/>
<circle cx="497.4" cy="510.2" r="2.2" fill="rgb(230,230,239)"/>
<circle cx="504.7" cy="534.1" r="2.2" fill="rgb(228,228,239)"/>
<circle cx="504.7" cy="553.9" r="2.2" fill="rgb(232,232,239)"/>
<circle cx="497.4" cy="558.1" r="2.2" fill="rgb(230,230,239)"/>
<circle cx="504.7" cy="593.5" r="2.2" fill="rgb(237,237,239)"/>
<circle cx="497.4" cy="597.6" r="2.2" fill="rgb(232,232,239)"/>
<circle cx="497.4" cy="589.3" r="2.2" fill="rgb(234,234,239)"/>
<circle cx="504.7" cy="613.2" r="2.2" fill="rgb(230,230,239)"/>
<circle cx="497.4" cy="617.4" r="2.2" fill="rgb(235,235,239)"/>
<circle cx="497.4" cy="609.1" r="2.2" fill="rgb(234,234,239)"/>
<circle cx="504.7" cy="633.0" r="2.2" fill="rgb(234,234,239)"/>
<circle cx="497.4" cy="628.8" r="2.2" fill="rgb(232,232,239)"/>
<circle cx="514.6" cy="449.3" r="2.2" fill="rgb(230,230,239)"/>
<circle cx="514.6" cy="441.0" r="2.2" fill="rgb(230,230,239)"/>
<circle cx="514.6" cy="469.1" r="2.2" fill="rgb(230,230,239)"/>
<circle cx="514.6" cy="480.5" r="2.2" fill="rgb(234,234,239)"/>
<circle cx="514.6" cy="500.3" r="2.2" fill="rgb(237,237,239)"/>
<circle cx="514.6" cy="548.2" r="2.2" fill="rgb(231,231,239)"/>
<circle cx="514.6" cy="539.8" r="2.2" fill="rgb(230,230,239)"/>
<circle cx="514.6" cy="568.0" r="2.2" fill="rgb(231,231,239)"/>
<circle cx="514.6" cy="587.8" r="2.2" fill="rgb(230,230,239)"/>
<circle cx="514.6" cy="579.4" r="2.2" fill="rgb(235,235,239)"/>
<circle cx="514.6" cy="599.2" r="2.2" fill="rgb(235,235,239)"/>
<circle cx="514.6" cy="627.3" r="2.2" fill="rgb(230,230,239)"/>
<circle cx="514.6" cy="618.9" r="2.2" fill="rgb(230,230,239)"/>
<circle cx="396.6" cy="534.2" r="1.3" fill="#000"/>
</g>
<rect x="311.2" y="434.7" width="204.6" height="199.3" fill="none" stroke="#000" stroke-width="1.5"/>
</g>
<g>
<clipPath id="cdf"><rect x="311.2" y="689.7" width="204.6" height="199.3"/></clipPath>
<g clip-path="url(#cdf)">
<g fill="#fff" stroke="#e6e4e8" stroke-width="0.6">
<circle cx="316.3" cy="719.9" r="1.9"/>
<circle cx="316.3" cy="779.2" r="1.9"/>
<circle cx="316.3" cy="799.0" r="1.9"/>
<circle cx="316.3" cy="818.8" r="1.9"/>
<circle cx="316.3" cy="838.6" r="1.9"/>
<circle cx="316.3" cy="878.1" r="1.9"/>
<circle cx="333.4" cy="690.3" r="1.9"/>
<circle cx="326.2" cy="694.4" r="1.9"/>
<circle cx="333.4" cy="710.0" r="1.9"/>
<circle cx="326.2" cy="714.2" r="1.9"/>
<circle cx="326.2" cy="705.9" r="1.9"/>
<circle cx="333.4" cy="729.8" r="1.9"/>
<circle cx="326.2" cy="734.0" r="1.9"/>
<circle cx="326.2" cy="725.6" r="1.9"/>
<circle cx="333.4" cy="749.6" r="1.9"/>
<circle cx="333.4" cy="769.4" r="1.9"/>
<circle cx="326.2" cy="773.5" r="1.9"/>
<circle cx="326.2" cy="765.2" r="1.9"/>
<circle cx="333.4" cy="789.1" r="1.9"/>
<circle cx="326.2" cy="785.0" r="1.9"/>
<circle cx="333.4" cy="808.9" r="1.9"/>
<circle cx="326.2" cy="813.1" r="1.9"/>
<circle cx="326.2" cy="804.7" r="1.9"/>
<circle cx="333.4" cy="828.7" r="1.9"/>
<circle cx="326.2" cy="832.9" r="1.9"/>
<circle cx="326.2" cy="824.5" r="1.9"/>
<circle cx="326.2" cy="852.6" r="1.9"/>
<circle cx="326.2" cy="844.3" r="1.9"/>
<circle cx="326.2" cy="872.4" r="1.9"/>
<circle cx="326.2" cy="864.1" r="1.9"/>
<circle cx="333.4" cy="888.0" r="1.9"/>
<circle cx="326.2" cy="883.8" r="1.9"/>
<circle cx="350.5" cy="700.2" r="1.9"/>
<circle cx="350.5" cy="739.7" r="1.9"/>
<circle cx="343.3" cy="743.9" r="1.9"/>
<circle cx="350.5" cy="759.5" r="1.9"/>
<circle cx="343.3" cy="755.3" r="1.9"/>
<circle cx="350.5" cy="779.2" r="1.9"/>
<circle cx="343.3" cy="783.4" r="1.9"/>
<circle cx="343.3" cy="775.1" r="1.9"/>
<circle cx="350.5" cy="799.0" r="1.9"/>
<circle cx="343.3" cy="803.2" r="1.9"/>
<circle cx="343.3" cy="794.8" r="1.9"/>
<circle cx="350.5" cy="818.8" r="1.9"/>
<circle cx="343.3" cy="823.0" r="1.9"/>
<circle cx="343.3" cy="814.6" r="1.9"/>
<circle cx="367.7" cy="690.3" r="1.9"/>
<circle cx="360.4" cy="694.4" r="1.9"/>
<circle cx="360.4" cy="714.2" r="1.9"/>
<circle cx="369.4" cy="729.8" r="1.9"/>
<circle cx="359.5" cy="755.3" r="1.9"/>
<circle cx="369.4" cy="769.4" r="1.9"/>
<circle cx="359.5" cy="775.1" r="1.9"/>
<circle cx="369.4" cy="789.1" r="1.9"/>
<circle cx="359.5" cy="794.8" r="1.9"/>
<circle cx="359.5" cy="783.4" r="1.9"/>
<circle cx="369.4" cy="808.9" r="1.9"/>
<circle cx="359.5" cy="814.6" r="1.9"/>
<circle cx="359.5" cy="803.2" r="1.9"/>
<circle cx="369.4" cy="828.7" r="1.9"/>
<circle cx="359.5" cy="823.0" r="1.9"/>
<circle cx="360.4" cy="864.1" r="1.9"/>
<circle cx="384.8" cy="700.2" r="1.9"/>
<circle cx="377.5" cy="704.3" r="1.9"/>
<circle cx="377.5" cy="696.0" r="1.9"/>
<circle cx="384.8" cy="719.9" r="1.9"/>
<circle cx="377.5" cy="724.1" r="1.9"/>
<circle cx="386.6" cy="739.7" r="1.9"/>
<circle cx="376.7" cy="745.4" r="1.9"/>
<circle cx="386.6" cy="759.5" r="1.9"/>
<circle cx="376.7" cy="765.2" r="1.9"/>
<circle cx="376.7" cy="753.8" r="1.9"/>
<circle cx="386.6" cy="779.2" r="1.9"/>
<circle cx="376.7" cy="785.0" r="1.9"/>
<circle cx="386.6" cy="799.0" r="1.9"/>
<circle cx="376.7" cy="804.7" r="1.9"/>
<circle cx="376.7" cy="793.3" r="1.9"/>
<circle cx="376.7" cy="824.5" r="1.9"/>
<circle cx="386.6" cy="838.6" r="1.9"/>
<circle cx="376.7" cy="832.9" r="1.9"/>
<circle cx="377.5" cy="862.5" r="1.9"/>
<circle cx="377.5" cy="854.2" r="1.9"/>
<circle cx="384.8" cy="878.1" r="1.9"/>
<circle cx="377.5" cy="873.9" r="1.9"/>
<circle cx="401.9" cy="690.3" r="1.9"/>
<circle cx="394.7" cy="694.4" r="1.9"/>
<circle cx="394.7" cy="714.2" r="1.9"/>
<circle cx="394.7" cy="705.9" r="1.9"/>
<circle cx="394.7" cy="734.0" r="1.9"/>
<circle cx="394.7" cy="725.6" r="1.9"/>
<circle cx="403.7" cy="749.6" r="1.9"/>
<circle cx="393.8" cy="755.3" r="1.9"/>
<circle cx="393.8" cy="743.9" r="1.9"/>
<circle cx="403.7" cy="769.4" r="1.9"/>
<circle cx="393.8" cy="775.1" r="1.9"/>
<circle cx="403.7" cy="789.1" r="1.9"/>
<circle cx="393.8" cy="794.8" r="1.9"/>
<circle cx="393.8" cy="783.4" r="1.9"/>
<circle cx="403.7" cy="808.9" r="1.9"/>
<circle cx="393.8" cy="814.6" r="1.9"/>
<circle cx="393.8" cy="803.2" r="1.9"/>
<circle cx="403.7" cy="828.7" r="1.9"/>
<circle cx="393.8" cy="834.4" r="1.9"/>
<circle cx="393.8" cy="823.0" r="1.9"/>
<circle cx="401.9" cy="848.5" r="1.9"/>
<circle cx="394.7" cy="852.6" r="1.9"/>
<circle cx="394.7" cy="844.3" r="1.9"/>
<circle cx="401.9" cy="868.2" r="1.9"/>
<circle cx="394.7" cy="872.4" r="1.9"/>
<circle cx="394.7" cy="864.1" r="1.9"/>
<circle cx="401.9" cy="888.0" r="1.9"/>
<circle cx="394.7" cy="883.8" r="1.9"/>
<circle cx="419.0" cy="700.2" r="1.9"/>
<circle cx="411.8" cy="704.3" r="1.9"/>
<circle cx="419.0" cy="719.9" r="1.9"/>
<circle cx="411.8" cy="715.7" r="1.9"/>
<circle cx="411.8" cy="743.9" r="1.9"/>
<circle cx="420.8" cy="759.5" r="1.9"/>
<circle cx="410.9" cy="765.2" r="1.9"/>
<circle cx="410.9" cy="753.8" r="1.9"/>
<circle cx="420.8" cy="779.2" r="1.9"/>
<circle cx="410.9" cy="785.0" r="1.9"/>
<circle cx="410.9" cy="773.5" r="1.9"/>
<circle cx="420.8" cy="799.0" r="1.9"/>
<circle cx="410.9" cy="804.7" r="1.9"/>
<circle cx="410.9" cy="793.3" r="1.9"/>
<circle cx="420.8" cy="818.8" r="1.9"/>
<circle cx="410.9" cy="824.5" r="1.9"/>
<circle cx="410.9" cy="813.1" r="1.9"/>
<circle cx="419.0" cy="838.6" r="1.9"/>
<circle cx="411.8" cy="842.8" r="1.9"/>
<circle cx="411.8" cy="834.4" r="1.9"/>
<circle cx="411.8" cy="862.5" r="1.9"/>
<circle cx="411.8" cy="854.2" r="1.9"/>
<circle cx="419.0" cy="878.1" r="1.9"/>
<circle cx="411.8" cy="882.3" r="1.9"/>
<circle cx="411.8" cy="873.9" r="1.9"/>
<circle cx="436.2" cy="710.0" r="1.9"/>
<circle cx="428.9" cy="714.2" r="1.9"/>
<circle cx="428.9" cy="705.9" r="1.9"/>
<circle cx="436.2" cy="729.8" r="1.9"/>
<circle cx="428.9" cy="734.0" r="1.9"/>
<circle cx="428.9" cy="725.6" r="1.9"/>
<circle cx="436.2" cy="749.6" r="1.9"/>
<circle cx="428.9" cy="753.8" r="1.9"/>
<circle cx="428.0" cy="763.7" r="1.9"/>
<circle cx="437.9" cy="789.1" r="1.9"/>
<circle cx="428.0" cy="783.4" r="1.9"/>
<circle cx="437.9" cy="808.9" r="1.9"/>
<circle cx="436.2" cy="828.7" r="1.9"/>
<circle cx="428.9" cy="832.9" r="1.9"/>
<circle cx="428.9" cy="824.5" r="1.9"/>
<circle cx="436.2" cy="848.5" r="1.9"/>
<circle cx="428.9" cy="844.3" r="1.9"/>
<circle cx="436.2" cy="868.2" r="1.9"/>
<circle cx="428.9" cy="864.1" r="1.9"/>
<circle cx="436.2" cy="888.0" r="1.9"/>
<circle cx="428.9" cy="883.8" r="1.9"/>
<circle cx="453.3" cy="700.2" r="1.9"/>
<circle cx="446.0" cy="704.3" r="1.9"/>
<circle cx="446.0" cy="715.7" r="1.9"/>
<circle cx="453.3" cy="739.7" r="1.9"/>
<circle cx="446.0" cy="743.9" r="1.9"/>
<circle cx="446.0" cy="735.5" r="1.9"/>
<circle cx="453.3" cy="759.5" r="1.9"/>
<circle cx="446.0" cy="755.3" r="1.9"/>
<circle cx="445.2" cy="785.0" r="1.9"/>
<circle cx="445.2" cy="773.5" r="1.9"/>
<circle cx="445.2" cy="804.7" r="1.9"/>
<circle cx="453.3" cy="818.8" r="1.9"/>
<circle cx="446.0" cy="823.0" r="1.9"/>
<circle cx="446.0" cy="814.6" r="1.9"/>
<circle cx="453.3" cy="838.6" r="1.9"/>
<circle cx="453.3" cy="858.3" r="1.9"/>
<circle cx="446.0" cy="862.5" r="1.9"/>
<circle cx="446.0" cy="854.2" r="1.9"/>
<circle cx="453.3" cy="878.1" r="1.9"/>
<circle cx="446.0" cy="882.3" r="1.9"/>
<circle cx="446.0" cy="873.9" r="1.9"/>
<circle cx="463.2" cy="694.4" r="1.9"/>
<circle cx="463.2" cy="714.2" r="1.9"/>
<circle cx="463.2" cy="705.9" r="1.9"/>
<circle cx="463.2" cy="734.0" r="1.9"/>
<circle cx="463.2" cy="725.6" r="1.9"/>
<circle cx="470.4" cy="749.6" r="1.9"/>
<circle cx="463.2" cy="745.4" r="1.9"/>
<circle cx="463.2" cy="765.2" r="1.9"/>
<circle cx="462.3" cy="783.4" r="1.9"/>
<circle cx="470.4" cy="828.7" r="1.9"/>
<circle cx="463.2" cy="832.9" r="1.9"/>
<circle cx="463.2" cy="824.5" r="1.9"/>
<circle cx="470.4" cy="848.5" r="1.9"/>
<circle cx="463.2" cy="852.6" r="1.9"/>
<circle cx="463.2" cy="844.3" r="1.9"/>
<circle cx="470.4" cy="868.2" r="1.9"/>
<circle cx="463.2" cy="864.1" r="1.9"/>
<circle cx="470.4" cy="888.0" r="1.9"/>
<circle cx="487.5" cy="700.2" r="1.9"/>
<circle cx="480.3" cy="704.3" r="1.9"/>
<circle cx="480.3" cy="696.0" r="1.9"/>
<circle cx="487.5" cy="719.9" r="1.9"/>
<circle cx="480.3" cy="724.1" r="1.9"/>
<circle cx="480.3" cy="715.7" r="1.9"/>
<circle cx="480.3" cy="743.9" r="1.9"/>
<circle cx="480.3" cy="735.5" r="1.9"/>
<circle cx="487.5" cy="759.5" r="1.9"/>
<circle cx="480.3" cy="755.3" r="1.9"/>
<circle cx="480.3" cy="783.4" r="1.9"/>
<circle cx="487.5" cy="818.8" r="1.9"/>
<circle cx="480.3" cy="823.0" r="1.9"/>
<circle cx="480.3" cy="814.6" r="1.9"/>
<circle cx="487.5" cy="838.6" r="1.9"/>
<circle cx="480.3" cy="842.8" r="1.9"/>
<circle cx="480.3" cy="834.4" r="1.9"/>
<circle cx="487.5" cy="858.3" r="1.9"/>
<circle cx="480.3" cy="862.5" r="1.9"/>
<circle cx="480.3" cy="854.2" r="1.9"/>
<circle cx="487.5" cy="878.1" r="1.9"/>
<circle cx="480.3" cy="882.3" r="1.9"/>
<circle cx="480.3" cy="873.9" r="1.9"/>
<circle cx="504.7" cy="690.3" r="1.9"/>
<circle cx="497.4" cy="694.4" r="1.9"/>
<circle cx="504.7" cy="710.0" r="1.9"/>
<circle cx="497.4" cy="714.2" r="1.9"/>
<circle cx="497.4" cy="705.9" r="1.9"/>
<circle cx="504.7" cy="729.8" r="1.9"/>
<circle cx="497.4" cy="734.0" r="1.9"/>
<circle cx="497.4" cy="725.6" r="1.9"/>
<circle cx="504.7" cy="749.6" r="1.9"/>
<circle cx="497.4" cy="753.8" r="1.9"/>
<circle cx="504.7" cy="769.4" r="1.9"/>
<circle cx="497.4" cy="773.5" r="1.9"/>
<circle cx="504.7" cy="789.1" r="1.9"/>
<circle cx="504.7" cy="808.9" r="1.9"/>
<circle cx="497.4" cy="804.7" r="1.9"/>
<circle cx="504.7" cy="828.7" r="1.9"/>
<circle cx="497.4" cy="832.9" r="1.9"/>
<circle cx="497.4" cy="824.5" r="1.9"/>
<circle cx="504.7" cy="848.5" r="1.9"/>
<circle cx="497.4" cy="852.6" r="1.9"/>
<circle cx="497.4" cy="844.3" r="1.9"/>
<circle cx="504.7" cy="868.2" r="1.9"/>
<circle cx="497.4" cy="872.4" r="1.9"/>
<circle cx="497.4" cy="864.1" r="1.9"/>
<circle cx="504.7" cy="888.0" r="1.9"/>
<circle cx="497.4" cy="883.8" r="1.9"/>
<circle cx="514.6" cy="704.3" r="1.9"/>
<circle cx="514.6" cy="696.0" r="1.9"/>
<circle cx="514.6" cy="724.1" r="1.9"/>
<circle cx="514.6" cy="715.7" r="1.9"/>
<circle cx="514.6" cy="743.9" r="1.9"/>
<circle cx="514.6" cy="735.5" r="1.9"/>
<circle cx="514.6" cy="755.3" r="1.9"/>
<circle cx="514.6" cy="783.4" r="1.9"/>
<circle cx="514.6" cy="775.1" r="1.9"/>
<circle cx="514.6" cy="794.8" r="1.9"/>
<circle cx="514.6" cy="823.0" r="1.9"/>
<circle cx="514.6" cy="814.6" r="1.9"/>
<circle cx="514.6" cy="842.8" r="1.9"/>
<circle cx="514.6" cy="834.4" r="1.9"/>
<circle cx="514.6" cy="862.5" r="1.9"/>
<circle cx="514.6" cy="873.9" r="1.9"/>
</g>
<polyline points="357.2,720.8 476.8,789.5 357.2,858.2" fill="none" stroke="#bdbdc9" stroke-width="0.7"/>
<line x1="357.2" y1="720.8" x2="357.2" y2="858.2" stroke="#a2a2b2" stroke-width="0.8" stroke-dasharray="1,1"/>
<circle cx="316.3" cy="700.2" r="2.2" fill="rgb(255,245,245)"/>
<circle cx="316.3" cy="739.7" r="2.2" fill="rgb(235,235,239)"/>
<circle cx="316.3" cy="759.5" r="2.2" fill="rgb(255,245,245)"/>
<circle cx="316.3" cy="858.3" r="2.2" fill="rgb(235,235,239)"/>
<circle cx="326.2" cy="753.8" r="2.2" fill="rgb(236,236,239)"/>
<circle cx="326.2" cy="745.4" r="2.2" fill="rgb(255,245,245)"/>
<circle cx="326.2" cy="793.3" r="2.2" fill="rgb(236,236,239)"/>
<circle cx="333.4" cy="848.5" r="2.2" fill="rgb(255,234,234)"/>
<circle cx="333.4" cy="868.2" r="2.2" fill="rgb(255,239,239)"/>
<circle cx="343.3" cy="704.3" r="2.2" fill="rgb(255,244,244)"/>
<circle cx="343.3" cy="696.0" r="2.2" fill="rgb(231,231,239)"/>
<circle cx="350.5" cy="719.9" r="2.2" fill="rgb(231,231,239)"/>
<circle cx="343.3" cy="724.1" r="2.2" fill="rgb(202,202,239)"/>
<circle cx="343.3" cy="715.7" r="2.2" fill="rgb(192,192,239)"/>
<circle cx="343.3" cy="735.5" r="2.2" fill="rgb(255,244,244)"/>
<circle cx="343.3" cy="763.7" r="2.2" fill="rgb(236,236,239)"/>
<circle cx="350.5" cy="838.6" r="2.2" fill="rgb(255,244,244)"/>
<circle cx="343.3" cy="842.8" r="2.2" fill="rgb(255,234,234)"/>
<circle cx="343.3" cy="834.4" r="2.2" fill="rgb(255,234,234)"/>
<circle cx="350.5" cy="858.3" r="2.2" fill="rgb(255,234,234)"/>
<circle cx="343.3" cy="862.5" r="2.2" fill="rgb(255,178,178)"/>
<circle cx="343.3" cy="854.2" r="2.2" fill="rgb(255,178,178)"/>
<circle cx="350.5" cy="878.1" r="2.2" fill="rgb(255,239,239)"/>
<circle cx="343.3" cy="882.3" r="2.2" fill="rgb(255,234,234)"/>
<circle cx="343.3" cy="873.9" r="2.2" fill="rgb(234,234,239)"/>
<circle cx="367.7" cy="710.0" r="2.2" fill="rgb(177,177,239)"/>
<circle cx="360.4" cy="705.9" r="2.2" fill="rgb(192,192,239)"/>
<circle cx="359.5" cy="735.5" r="2.2" fill="rgb(231,231,239)"/>
<circle cx="359.5" cy="724.1" r="2.2" fill="rgb(255,81,81)"/>
<circle cx="369.4" cy="749.6" r="2.2" fill="rgb(255,245,245)"/>
<circle cx="359.5" cy="743.9" r="2.2" fill="rgb(192,192,239)"/>
<circle cx="359.5" cy="763.7" r="2.2" fill="rgb(236,236,239)"/>
<circle cx="359.5" cy="834.4" r="2.2" fill="rgb(255,140,140)"/>
<circle cx="369.4" cy="848.5" r="2.2" fill="rgb(255,244,244)"/>
<circle cx="359.5" cy="854.2" r="2.2" fill="rgb(0,0,255)"/>
<circle cx="359.5" cy="842.8" r="2.2" fill="rgb(255,239,239)"/>
<circle cx="367.7" cy="868.2" r="2.2" fill="rgb(255,153,153)"/>
<circle cx="360.4" cy="872.4" r="2.2" fill="rgb(255,153,153)"/>
<circle cx="367.7" cy="888.0" r="2.2" fill="rgb(236,236,239)"/>
<circle cx="360.4" cy="883.8" r="2.2" fill="rgb(255,234,234)"/>
<circle cx="377.5" cy="715.7" r="2.2" fill="rgb(255,239,239)"/>
<circle cx="376.7" cy="734.0" r="2.2" fill="rgb(177,177,239)"/>
<circle cx="376.7" cy="773.5" r="2.2" fill="rgb(235,235,239)"/>
<circle cx="386.6" cy="818.8" r="2.2" fill="rgb(255,245,245)"/>
<circle cx="376.7" cy="813.1" r="2.2" fill="rgb(236,236,239)"/>
<circle cx="376.7" cy="844.3" r="2.2" fill="rgb(255,165,165)"/>
<circle cx="384.8" cy="858.3" r="2.2" fill="rgb(255,239,239)"/>
<circle cx="377.5" cy="882.3" r="2.2" fill="rgb(255,245,245)"/>
<circle cx="401.9" cy="710.0" r="2.2" fill="rgb(235,235,239)"/>
<circle cx="401.9" cy="729.8" r="2.2" fill="rgb(235,235,239)"/>
<circle cx="393.8" cy="763.7" r="2.2" fill="rgb(235,235,239)"/>
<circle cx="411.8" cy="696.0" r="2.2" fill="rgb(255,245,245)"/>
<circle cx="411.8" cy="724.1" r="2.2" fill="rgb(236,236,239)"/>
<circle cx="419.0" cy="739.7" r="2.2" fill="rgb(236,236,239)"/>
<circle cx="411.8" cy="735.5" r="2.2" fill="rgb(235,235,239)"/>
<circle cx="419.0" cy="858.3" r="2.2" fill="rgb(236,236,239)"/>
<circle cx="436.2" cy="690.3" r="2.2" fill="rgb(235,235,239)"/>
<circle cx="428.9" cy="694.4" r="2.2" fill="rgb(236,236,239)"/>
<circle cx="428.9" cy="745.4" r="2.2" fill="rgb(235,235,239)"/>
<circle cx="437.9" cy="769.4" r="2.2" fill="rgb(235,235,239)"/>
<circle cx="428.0" cy="775.1" r="2.2" fill="rgb(255,245,245)"/>
<circle cx="428.0" cy="794.8" r="2.2" fill="rgb(255,245,245)"/>
<circle cx="428.0" cy="814.6" r="2.2" fill="rgb(255,245,245)"/>
<circle cx="428.0" cy="803.2" r="2.2" fill="rgb(236,236,239)"/>
<circle cx="428.9" cy="852.6" r="2.2" fill="rgb(236,236,239)"/>
<circle cx="428.9" cy="872.4" r="2.2" fill="rgb(235,235,239)"/>
<circle cx="446.0" cy="696.0" r="2.2" fill="rgb(235,235,239)"/>
<circle cx="453.3" cy="719.9" r="2.2" fill="rgb(235,235,239)"/>
<circle cx="446.0" cy="724.1" r="2.2" fill="rgb(255,245,245)"/>
<circle cx="446.0" cy="763.7" r="2.2" fill="rgb(255,245,245)"/>
<circle cx="455.1" cy="779.2" r="2.2" fill="rgb(209,209,239)"/>
<circle cx="455.1" cy="799.0" r="2.2" fill="rgb(202,202,239)"/>
<circle cx="445.2" cy="793.3" r="2.2" fill="rgb(235,235,239)"/>
<circle cx="446.0" cy="842.8" r="2.2" fill="rgb(255,245,245)"/>
<circle cx="446.0" cy="834.4" r="2.2" fill="rgb(235,235,239)"/>
<circle cx="470.4" cy="690.3" r="2.2" fill="rgb(236,236,239)"/>
<circle cx="470.4" cy="710.0" r="2.2" fill="rgb(235,235,239)"/>
<circle cx="470.4" cy="729.8" r="2.2" fill="rgb(236,236,239)"/>
<circle cx="463.2" cy="753.8" r="2.2" fill="rgb(235,235,239)"/>
<circle cx="470.4" cy="769.4" r="2.2" fill="rgb(255,239,239)"/>
<circle cx="463.2" cy="773.5" r="2.2" fill="rgb(255,244,244)"/>
<circle cx="472.2" cy="789.1" r="2.2" fill="rgb(255,81,81)"/>
<circle cx="462.3" cy="794.8" r="2.2" fill="rgb(255,239,239)"/>
<circle cx="470.4" cy="808.9" r="2.2" fill="rgb(255,244,244)"/>
<circle cx="463.2" cy="813.1" r="2.2" fill="rgb(255,244,244)"/>
<circle cx="463.2" cy="804.7" r="2.2" fill="rgb(255,239,239)"/>
<circle cx="463.2" cy="872.4" r="2.2" fill="rgb(235,235,239)"/>
<circle cx="463.2" cy="883.8" r="2.2" fill="rgb(255,245,245)"/>
<circle cx="487.5" cy="739.7" r="2.2" fill="rgb(255,245,245)"/>
<circle cx="480.3" cy="763.7" r="2.2" fill="rgb(255,244,244)"/>
<circle cx="487.5" cy="779.2" r="2.2" fill="rgb(202,202,239)"/>
<circle cx="480.3" cy="775.1" r="2.2" fill="rgb(192,192,239)"/>
<circle cx="487.5" cy="799.0" r="2.2" fill="rgb(192,192,239)"/>
<circle cx="480.3" cy="803.2" r="2.2" fill="rgb(192,192,239)"/>
<circle cx="480.3" cy="794.8" r="2.2" fill="rgb(255,239,239)"/>
<circle cx="497.4" cy="745.4" r="2.2" fill="rgb(255,245,245)"/>
<circle cx="497.4" cy="765.2" r="2.2" fill="rgb(255,245,245)"/>
<circle cx="497.4" cy="793.3" r="2.2" fill="rgb(231,231,239)"/>
<circle cx="497.4" cy="785.0" r="2.2" fill="rgb(231,231,239)"/>
<circle cx="497.4" cy="813.1" r="2.2" fill="rgb(255,245,245)"/>
<circle cx="514.6" cy="763.7" r="2.2" fill="rgb(236,236,239)"/>
<circle cx="514.6" cy="803.2" r="2.2" fill="rgb(255,245,245)"/>
<circle cx="514.6" cy="854.2" r="2.2" fill="rgb(235,235,239)"/>
<circle cx="514.6" cy="882.3" r="2.2" fill="rgb(236,236,239)"/>
<circle cx="396.6" cy="789.2" r="1.3" fill="#000"/>
</g>
<rect x="311.2" y="689.7" width="204.6" height="199.3" fill="none" stroke="#000" stroke-width="1.5"/>
</g>
<rect x="309.8" y="904.2" width="207" height="13.3" fill="url(#bwr)" stroke="#000" stroke-width="1.4"/>
<line x1="309.8" y1="917.5" x2="309.8" y2="924.5" stroke="#000" stroke-width="1.4"/>
<line x1="413.3" y1="917.5" x2="413.3" y2="924.5" stroke="#000" stroke-width="1.4"/>
<line x1="516.8" y1="917.5" x2="516.8" y2="924.5" stroke="#000" stroke-width="1.4"/>
<text x="298.0" y="948.5" font-size="17" text-anchor="start" textLength="23.0" lengthAdjust="spacingAndGlyphs" >−1</text>
<text x="516.2" y="948.5" font-size="17" text-anchor="middle" >1</text>
<text x="385.2" y="942.8" font-size="17" textLength="55.5" lengthAdjust="spacingAndGlyphs">Re(<tspan font-style="italic">p</tspan><tspan font-style="italic" font-size="12" dy="3">z</tspan><tspan dy="-3">)</tspan></text>
</svg></body></html>
